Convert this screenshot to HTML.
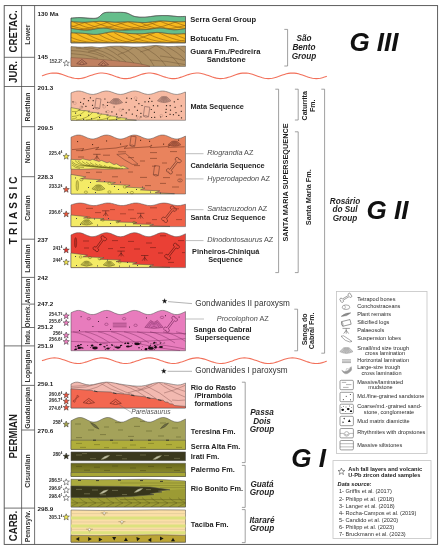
<!DOCTYPE html><html><head><meta charset="utf-8"><title>Stratigraphic chart</title>
<style>html,body{margin:0;padding:0;background:#fff}svg{display:block}text{font-family:"Liberation Sans",Arial,Helvetica,sans-serif}</style></head><body>
<svg width="442" height="550" viewBox="0 0 442 550">
<defs><linearGradient id="gPal" x1="0" y1="0" x2="0" y2="1"><stop offset="0" stop-color="#66651c"/><stop offset="0.7" stop-color="#8a8a2c"/><stop offset="1" stop-color="#8a8a2c"/></linearGradient><clipPath id="cRB"><rect x="71" y="497" width="114.5" height="10"/></clipPath><clipPath id="cO1"><path d="M71 21.6 C73.3 21.7 80.2 22.4 85 22.3 C89.8 22.2 95 21.3 100 21.3 C105 21.3 110 22.1 115 22.2 C120 22.3 125 21.7 130 21.8 C135 21.9 140 22.7 145 22.6 C150 22.5 155 21.1 160 21 C165 20.9 170.8 21.7 175 21.8 C179.2 21.9 183.8 21.6 185.5 21.6 L185.5 28.6 C183.6 28.8 178.2 29.9 174 29.8 C169.8 29.7 164.7 28 160 28 C155.3 28 150.7 29.3 146 29.6 C141.3 29.9 136.7 29.7 132 29.8 C127.3 29.9 122.8 30.5 118 30.2 C113.2 29.9 108.2 28 103 28 C97.8 28 92.3 30.1 87 30.2 C81.7 30.3 73.7 28.7 71 28.4Z"/></clipPath><clipPath id="cO2"><path d="M71 32.8 C73.2 32.9 79.7 33.1 84 33.4 C88.3 33.7 92.2 34.7 97 34.4 C101.8 34.1 107.8 32 113 31.8 C118.2 31.6 123.2 33.1 128 33.4 C132.8 33.7 137.2 34 142 33.8 C146.8 33.6 152 32.4 157 32.4 C162 32.4 167.2 33.8 172 34 C176.8 34.2 183.2 33.7 185.5 33.6 L185.5 42.8 L71 42.8Z"/></clipPath><clipPath id="cGU"><path d="M71 46.6 C72.8 46.7 78.5 47.2 82 47.2 C85.5 47.2 89 46.7 92 46.8 C95 46.9 97 47.7 100 47.6 C103 47.5 106.3 46.6 110 46.4 C113.7 46.2 118 46.1 122 46.2 C126 46.3 130 47 134 47 C138 47 142.3 46.7 146 46.4 C149.7 46.1 152.3 45.4 156 45.4 C159.7 45.4 164.3 46.5 168 46.6 C171.7 46.7 175.1 46.3 178 46.2 C180.9 46.1 184.2 46 185.5 46 L185.5 66.4 L71 66.4Z"/></clipPath><clipPath id="cSA"><rect x="71" y="331" width="114.5" height="19.5"/></clipPath><clipPath id="cRR"><path d="M71 384 C72.1 383.7 74.3 381.9 77.4 382.1 C80.5 382.3 84.9 385 89.7 385 C94.5 385 100.7 382.2 106.4 382.1 C112.1 382.1 118.2 384 124 384.7 C129.8 385.4 135.6 386.5 141.4 386.1 C147.2 385.7 152.8 382.7 158.8 382.5 C164.8 382.3 173.2 384.9 177.6 385 C182 385.1 184.2 383.3 185.5 383 L185.5 408 L71 408Z"/></clipPath></defs><rect width="442" height="550" fill="#fff"/>
<rect x="4.2" y="5.6" width="433.4" height="538.8" fill="none" stroke="#4d4d4d" stroke-width="0.9"/>
<line x1="21.6" y1="5.6" x2="21.6" y2="544.4" stroke="#4d4d4d" stroke-width="0.8"/>
<line x1="34.6" y1="5.6" x2="34.6" y2="544.4" stroke="#4d4d4d" stroke-width="0.8"/>
<line x1="4.2" y1="57.3" x2="34.6" y2="57.3" stroke="#4d4d4d" stroke-width="0.8"/>
<line x1="4.2" y1="86.5" x2="34.6" y2="86.5" stroke="#4d4d4d" stroke-width="0.8"/>
<line x1="4.2" y1="345.9" x2="34.6" y2="345.9" stroke="#4d4d4d" stroke-width="0.8"/>
<line x1="4.2" y1="508.1" x2="34.6" y2="508.1" stroke="#4d4d4d" stroke-width="0.8"/>
<line x1="21.6" y1="126.7" x2="34.6" y2="126.7" stroke="#4d4d4d" stroke-width="0.8"/>
<line x1="21.6" y1="176.7" x2="34.6" y2="176.7" stroke="#4d4d4d" stroke-width="0.8"/>
<line x1="21.6" y1="239.2" x2="34.6" y2="239.2" stroke="#4d4d4d" stroke-width="0.8"/>
<line x1="21.6" y1="277.4" x2="34.6" y2="277.4" stroke="#4d4d4d" stroke-width="0.8"/>
<line x1="21.6" y1="304.1" x2="34.6" y2="304.1" stroke="#4d4d4d" stroke-width="0.8"/>
<line x1="21.6" y1="327.5" x2="34.6" y2="327.5" stroke="#4d4d4d" stroke-width="0.8"/>
<line x1="21.6" y1="385.4" x2="34.6" y2="385.4" stroke="#4d4d4d" stroke-width="0.8"/>
<line x1="21.6" y1="430" x2="34.6" y2="430" stroke="#4d4d4d" stroke-width="0.8"/>
<text transform="translate(16.9 31.4) rotate(-90) scale(0.875 1)" font-size="11" font-weight="bold" font-style="normal" text-anchor="middle" fill="#1a1a1a" >CRETAC.</text>
<text transform="translate(16.9 72) rotate(-90) scale(0.875 1)" font-size="11" font-weight="bold" font-style="normal" text-anchor="middle" fill="#1a1a1a" >JUR.</text>
<text transform="translate(16.9 208.8) rotate(-90)" font-size="10" font-weight="bold" font-style="normal" text-anchor="middle" fill="#1a1a1a" letter-spacing="3.0">TRIASSIC</text>
<text transform="translate(16.9 436.2) rotate(-90) scale(0.875 1)" font-size="11" font-weight="bold" font-style="normal" text-anchor="middle" fill="#1a1a1a" >PERMIAN</text>
<text transform="translate(16.9 526) rotate(-90) scale(0.875 1)" font-size="11" font-weight="bold" font-style="normal" text-anchor="middle" fill="#1a1a1a" >CARB.</text>
<text transform="translate(30.4 34.6) rotate(-90)" font-size="6.9" font-weight="bold" font-style="normal" text-anchor="middle" fill="#333" >Lower</text>
<text transform="translate(30.4 107) rotate(-90)" font-size="6.9" font-weight="bold" font-style="normal" text-anchor="middle" fill="#333" >Raethian</text>
<text transform="translate(30.4 152.3) rotate(-90)" font-size="6.9" font-weight="bold" font-style="normal" text-anchor="middle" fill="#333" >Norian</text>
<text transform="translate(30.4 208) rotate(-90)" font-size="6.9" font-weight="bold" font-style="normal" text-anchor="middle" fill="#333" >Carnian</text>
<text transform="translate(30.4 258.5) rotate(-90)" font-size="6.9" font-weight="bold" font-style="normal" text-anchor="middle" fill="#333" >Ladinian</text>
<text transform="translate(30.4 291) rotate(-90)" font-size="6.9" font-weight="bold" font-style="normal" text-anchor="middle" fill="#333" >Anisian</text>
<text transform="translate(30.4 316) rotate(-90)" font-size="6.3" font-weight="bold" font-style="normal" text-anchor="middle" fill="#333" >Olenek.</text>
<text transform="translate(30.4 337) rotate(-90)" font-size="6.3" font-weight="bold" font-style="normal" text-anchor="middle" fill="#333" >Indu.</text>
<text transform="translate(30.4 366) rotate(-90)" font-size="6.9" font-weight="bold" font-style="normal" text-anchor="middle" fill="#333" >Lopingian</text>
<text transform="translate(30.4 408) rotate(-90)" font-size="6.9" font-weight="bold" font-style="normal" text-anchor="middle" fill="#333" >Guadalupian</text>
<text transform="translate(30.4 471) rotate(-90)" font-size="6.9" font-weight="bold" font-style="normal" text-anchor="middle" fill="#333" >Cisuralian</text>
<text transform="translate(30.4 526.5) rotate(-90)" font-size="6.9" font-weight="bold" font-style="normal" text-anchor="middle" fill="#333" >Pennsylv.</text>
<text x="37.6" y="16" font-size="6.25" font-weight="bold" font-style="normal" text-anchor="start" fill="#222" >130 Ma</text>
<text x="37.6" y="58.5" font-size="6.25" font-weight="bold" font-style="normal" text-anchor="start" fill="#222" >145</text>
<text x="37.6" y="89.5" font-size="6.25" font-weight="bold" font-style="normal" text-anchor="start" fill="#222" >201.3</text>
<text x="37.6" y="129.5" font-size="6.25" font-weight="bold" font-style="normal" text-anchor="start" fill="#222" >209.5</text>
<text x="37.6" y="178.7" font-size="6.25" font-weight="bold" font-style="normal" text-anchor="start" fill="#222" >228.3</text>
<text x="37.6" y="241.8" font-size="6.25" font-weight="bold" font-style="normal" text-anchor="start" fill="#222" >237</text>
<text x="37.6" y="280" font-size="6.25" font-weight="bold" font-style="normal" text-anchor="start" fill="#222" >242</text>
<text x="37.6" y="306" font-size="6.25" font-weight="bold" font-style="normal" text-anchor="start" fill="#222" >247.2</text>
<text x="37.6" y="329.3" font-size="6.25" font-weight="bold" font-style="normal" text-anchor="start" fill="#222" >251.2</text>
<text x="37.6" y="348.1" font-size="6.25" font-weight="bold" font-style="normal" text-anchor="start" fill="#222" >251.9</text>
<text x="37.6" y="386.2" font-size="6.25" font-weight="bold" font-style="normal" text-anchor="start" fill="#222" >259.1</text>
<text x="37.6" y="432.8" font-size="6.25" font-weight="bold" font-style="normal" text-anchor="start" fill="#222" >270.6</text>
<text x="37.6" y="511.4" font-size="6.25" font-weight="bold" font-style="normal" text-anchor="start" fill="#222" >298.9</text>
<text x="62.3" y="63.1" font-size="4.5" font-weight="bold" text-anchor="end" fill="#333">152.2<tspan font-size="2.8" dy="-1.6">7</tspan></text>
<path d="M66.3 60 L67.1 62.2 L69.4 62.3 L67.6 63.7 L68.2 66 L66.3 64.7 L64.4 66 L65 63.7 L63.2 62.3 L65.5 62.2Z" fill="#fff" stroke="#333" stroke-width="0.5" stroke-linejoin="miter"/>
<text x="62.3" y="154.9" font-size="4.7" font-weight="bold" text-anchor="end" fill="#2a2a2a">225.4<tspan font-size="2.8" dy="-1.6">4</tspan></text>
<path d="M66.2 153.2 L67 155.4 L69.3 155.5 L67.5 156.9 L68.1 159.2 L66.2 157.9 L64.3 159.2 L64.9 156.9 L63.1 155.5 L65.4 155.4Z" fill="#f4e54a" stroke="#333" stroke-width="0.5" stroke-linejoin="miter"/>
<text x="62.3" y="188.4" font-size="4.7" font-weight="bold" text-anchor="end" fill="#2a2a2a">233.2<tspan font-size="2.8" dy="-1.6">4</tspan></text>
<path d="M66.2 186.3 L67 188.5 L69.3 188.6 L67.5 190 L68.1 192.3 L66.2 191 L64.3 192.3 L64.9 190 L63.1 188.6 L65.4 188.5Z" fill="#f0583a" stroke="#333" stroke-width="0.5" stroke-linejoin="miter"/>
<text x="62.3" y="213.5" font-size="4.7" font-weight="bold" text-anchor="end" fill="#2a2a2a">236.6<tspan font-size="2.8" dy="-1.6">3</tspan></text>
<path d="M66.2 210.9 L67 213.1 L69.3 213.2 L67.5 214.6 L68.1 216.9 L66.2 215.6 L64.3 216.9 L64.9 214.6 L63.1 213.2 L65.4 213.1Z" fill="#f0583a" stroke="#333" stroke-width="0.5" stroke-linejoin="miter"/>
<text x="62.3" y="249.7" font-size="4.7" font-weight="bold" text-anchor="end" fill="#2a2a2a">241<tspan font-size="2.8" dy="-1.6">4</tspan></text>
<path d="M66.2 246.9 L67 249.1 L69.3 249.2 L67.5 250.6 L68.1 252.9 L66.2 251.6 L64.3 252.9 L64.9 250.6 L63.1 249.2 L65.4 249.1Z" fill="#e8352c" stroke="#333" stroke-width="0.5" stroke-linejoin="miter"/>
<text x="62.3" y="261.7" font-size="4.7" font-weight="bold" text-anchor="end" fill="#2a2a2a">244<tspan font-size="2.8" dy="-1.6">4</tspan></text>
<path d="M66.2 259 L67 261.2 L69.3 261.3 L67.5 262.7 L68.1 265 L66.2 263.7 L64.3 265 L64.9 262.7 L63.1 261.3 L65.4 261.2Z" fill="#f4e54a" stroke="#333" stroke-width="0.5" stroke-linejoin="miter"/>
<text x="62.3" y="316.3" font-size="4.7" font-weight="bold" text-anchor="end" fill="#2a2a2a">254.7<tspan font-size="2.8" dy="-1.6">6</tspan></text>
<path d="M66.2 312.7 L67 314.9 L69.3 315 L67.5 316.4 L68.1 318.7 L66.2 317.4 L64.3 318.7 L64.9 316.4 L63.1 315 L65.4 314.9Z" fill="#ee7ec0" stroke="#333" stroke-width="0.5" stroke-linejoin="miter"/>
<text x="62.3" y="322.6" font-size="4.7" font-weight="bold" text-anchor="end" fill="#2a2a2a">255.6<tspan font-size="2.8" dy="-1.6">6</tspan></text>
<path d="M66.2 319.6 L67 321.8 L69.3 321.9 L67.5 323.3 L68.1 325.6 L66.2 324.3 L64.3 325.6 L64.9 323.3 L63.1 321.9 L65.4 321.8Z" fill="#ee7ec0" stroke="#333" stroke-width="0.5" stroke-linejoin="miter"/>
<text x="62.3" y="335.3" font-size="4.7" font-weight="bold" text-anchor="end" fill="#2a2a2a">256<tspan font-size="2.8" dy="-1.6">6</tspan></text>
<path d="M66.2 332 L67 334.2 L69.3 334.3 L67.5 335.7 L68.1 338 L66.2 336.7 L64.3 338 L64.9 335.7 L63.1 334.3 L65.4 334.2Z" fill="#ee7ec0" stroke="#333" stroke-width="0.5" stroke-linejoin="miter"/>
<text x="62.3" y="341.2" font-size="4.7" font-weight="bold" text-anchor="end" fill="#2a2a2a">256.6<tspan font-size="2.8" dy="-1.6">6</tspan></text>
<path d="M66.2 338.4 L67 340.6 L69.3 340.7 L67.5 342.1 L68.1 344.4 L66.2 343.1 L64.3 344.4 L64.9 342.1 L63.1 340.7 L65.4 340.6Z" fill="#ee7ec0" stroke="#333" stroke-width="0.5" stroke-linejoin="miter"/>
<text x="62.3" y="395.9" font-size="4.7" font-weight="bold" text-anchor="end" fill="#2a2a2a">260.6<tspan font-size="2.8" dy="-1.6">4</tspan></text>
<path d="M66.2 391.9 L67 394.1 L69.3 394.2 L67.5 395.6 L68.1 397.9 L66.2 396.6 L64.3 397.9 L64.9 395.6 L63.1 394.2 L65.4 394.1Z" fill="#f0553f" stroke="#333" stroke-width="0.5" stroke-linejoin="miter"/>
<text x="62.3" y="402" font-size="4.7" font-weight="bold" text-anchor="end" fill="#2a2a2a">266.7<tspan font-size="2.8" dy="-1.6">4</tspan></text>
<path d="M66.2 398 L67 400.2 L69.3 400.3 L67.5 401.7 L68.1 404 L66.2 402.7 L64.3 404 L64.9 401.7 L63.1 400.3 L65.4 400.2Z" fill="#f0553f" stroke="#333" stroke-width="0.5" stroke-linejoin="miter"/>
<text x="62.3" y="409.7" font-size="4.7" font-weight="bold" text-anchor="end" fill="#2a2a2a">274.6<tspan font-size="2.8" dy="-1.6">4</tspan></text>
<path d="M66.2 404.2 L67 406.4 L69.3 406.5 L67.5 407.9 L68.1 410.2 L66.2 408.9 L64.3 410.2 L64.9 407.9 L63.1 406.5 L65.4 406.4Z" fill="#f0553f" stroke="#333" stroke-width="0.5" stroke-linejoin="miter"/>
<text x="62.3" y="423.5" font-size="4.7" font-weight="bold" text-anchor="end" fill="#2a2a2a">258<tspan font-size="2.8" dy="-1.6">4</tspan></text>
<path d="M66.2 421 L67 423.2 L69.3 423.3 L67.5 424.7 L68.1 427 L66.2 425.7 L64.3 427 L64.9 424.7 L63.1 423.3 L65.4 423.2Z" fill="#a8a64c" stroke="#333" stroke-width="0.5" stroke-linejoin="miter"/>
<text x="62.3" y="455.5" font-size="4.7" font-weight="bold" text-anchor="end" fill="#2a2a2a">280<tspan font-size="2.8" dy="-1.6">4</tspan></text>
<path d="M66.2 453 L67 455.2 L69.3 455.3 L67.5 456.7 L68.1 459 L66.2 457.7 L64.3 459 L64.9 456.7 L63.1 455.3 L65.4 455.2Z" fill="#2e2c16" stroke="#333" stroke-width="0.5" stroke-linejoin="miter"/>
<text x="62.3" y="482.2" font-size="4.7" font-weight="bold" text-anchor="end" fill="#2a2a2a">286.5<tspan font-size="2.8" dy="-1.6">1</tspan></text>
<path d="M66.2 478.8 L67 481 L69.4 481.1 L67.6 482.6 L68.2 485 L66.2 483.6 L64.2 485 L64.8 482.6 L63 481.1 L65.4 481Z" fill="#fff" stroke="#333" stroke-width="0.5" stroke-linejoin="miter"/>
<text x="62.3" y="489.8" font-size="4.7" font-weight="bold" text-anchor="end" fill="#2a2a2a">296.9<tspan font-size="2.8" dy="-1.6">1</tspan></text>
<path d="M66.2 486.8 L67 489 L69.4 489.1 L67.6 490.6 L68.2 493 L66.2 491.6 L64.2 493 L64.8 490.6 L63 489.1 L65.4 489Z" fill="#fff" stroke="#333" stroke-width="0.5" stroke-linejoin="miter"/>
<text x="62.3" y="497.6" font-size="4.7" font-weight="bold" text-anchor="end" fill="#2a2a2a">298.4<tspan font-size="2.8" dy="-1.6">1</tspan></text>
<path d="M66.2 494.4 L67 496.6 L69.4 496.7 L67.6 498.2 L68.2 500.6 L66.2 499.2 L64.2 500.6 L64.8 498.2 L63 496.7 L65.4 496.6Z" fill="#fff" stroke="#333" stroke-width="0.5" stroke-linejoin="miter"/>
<text x="62.3" y="518.7" font-size="4.7" font-weight="bold" text-anchor="end" fill="#2a2a2a">305.1<tspan font-size="2.8" dy="-1.6">4</tspan></text>
<path d="M66.2 513.8 L67 516 L69.4 516.1 L67.6 517.6 L68.2 520 L66.2 518.6 L64.2 520 L64.8 517.6 L63 516.1 L65.4 516Z" fill="#f3ea5a" stroke="#333" stroke-width="0.5" stroke-linejoin="miter"/>
<path d="M42.4 75.7 L44.4 75 L46.4 74.3 L48.4 73.8 L50.4 73.3 L52.4 73.1 L54.4 73 L56.4 73.1 L58.4 73.4 L60.4 73.9 L62.4 74.5 L64.4 75.2 L66.4 75.9 L68.4 76.7 L70.4 77.3 L72.4 77.9 L74.4 78.3 L76.4 78.5 L78.4 78.6 L80.4 78.5 L82.4 78.1 L84.4 77.6 L86.4 77 L88.4 76.3 L90.4 75.6 L92.4 74.9 L94.4 74.2 L96.4 73.7 L98.4 73.3 L100.4 73 L102.4 73 L104.4 73.2 L106.4 73.5 L108.4 74 L110.4 74.6 L112.4 75.3 L114.4 76.1 L116.4 76.8 L118.4 77.4 L120.4 78 L122.4 78.4 L124.4 78.6 L126.4 78.6 L128.4 78.4 L130.4 78.1 L132.4 77.5 L134.4 76.9 L136.4 76.2 L138.4 75.5 L140.4 74.8 L142.4 74.1 L144.4 73.6 L146.4 73.2 L148.4 73 L150.4 73 L152.4 73.2 L154.4 73.6 L156.4 74.1 L158.4 74.7 L160.4 75.5 L162.4 76.2 L164.4 76.9 L166.4 77.5 L168.4 78 L170.4 78.4 L172.4 78.6 L174.4 78.6 L176.4 78.4 L178.4 78 L180.4 77.4 L182.4 76.8 L184.4 76.1 L186.4 75.3 L188.4 74.6 L190.4 74 L192.4 73.5 L194.4 73.2 L196.4 73 L198.4 73 L200.4 73.3 L202.4 73.7 L204.4 74.2 L206.4 74.9 L208.4 75.6 L210.4 76.3 L212.4 77 L214.4 77.6 L216.4 78.1 L218.4 78.4 L220.4 78.6 L222.4 78.5 L224.4 78.3 L226.4 77.9 L228.4 77.3 L230.4 76.7 L232.4 76 L234.4 75.2 L236.4 74.5 L238.4 73.9 L240.4 73.4 L242.4 73.1 L244.4 73 L246.4 73.1 L248.4 73.3 L250.4 73.7 L252.4 74.3 L254.4 75 L256.4 75.7 L258.4 76.4 L260.4 77.1 L262.4 77.7 L264.4 78.2 L266.4 78.5 L268.4 78.6 L270.4 78.5 L272.4 78.3 L274.4 77.8 L276.4 77.2 L278.4 76.6 L280.4 75.8 L282.4 75.1 L284.4 74.4 L286.4 73.8 L288.4 73.4 L290.4 73.1 L292.4 73 L294.4 73.1 L296.4 73.4 L298.4 73.8 L300.4 74.4 L302.4 75.1 L304.4 75.8 L306.4 76.6 L308.4 77.2 L310.4 77.8 L312.4 78.3 L314.4 78.5 L316.4 78.6 L318.4 78.5 L320.4 78.2 L322.4 77.7 L324.4 77.1 L326.4 76.4" fill="none" stroke="#f2705a" stroke-width="1.1" stroke-linecap="round"/>
<path d="M42.4 360.6 L44.4 359.9 L46.4 359.2 L48.4 358.7 L50.4 358.2 L52.4 358 L54.4 357.9 L56.4 358 L58.4 358.3 L60.4 358.8 L62.4 359.4 L64.4 360.1 L66.4 360.8 L68.4 361.6 L70.4 362.2 L72.4 362.8 L74.4 363.2 L76.4 363.4 L78.4 363.5 L80.4 363.4 L82.4 363 L84.4 362.5 L86.4 361.9 L88.4 361.2 L90.4 360.5 L92.4 359.8 L94.4 359.1 L96.4 358.6 L98.4 358.2 L100.4 357.9 L102.4 357.9 L104.4 358.1 L106.4 358.4 L108.4 358.9 L110.4 359.5 L112.4 360.2 L114.4 361 L116.4 361.7 L118.4 362.3 L120.4 362.9 L122.4 363.3 L124.4 363.5 L126.4 363.5 L128.4 363.3 L130.4 363 L132.4 362.4 L134.4 361.8 L136.4 361.1 L138.4 360.4 L140.4 359.7 L142.4 359 L144.4 358.5 L146.4 358.1 L148.4 357.9 L150.4 357.9 L152.4 358.1 L154.4 358.5 L156.4 359 L158.4 359.6 L160.4 360.4 L162.4 361.1 L164.4 361.8 L166.4 362.4 L168.4 362.9 L170.4 363.3 L172.4 363.5 L174.4 363.5 L176.4 363.3 L178.4 362.9 L180.4 362.3 L182.4 361.7 L184.4 361 L186.4 360.2 L188.4 359.5 L190.4 358.9 L192.4 358.4 L194.4 358.1 L196.4 357.9 L198.4 357.9 L200.4 358.2 L202.4 358.6 L204.4 359.1 L206.4 359.8 L208.4 360.5 L210.4 361.2 L212.4 361.9 L214.4 362.5 L216.4 363 L218.4 363.3 L220.4 363.5 L222.4 363.4 L224.4 363.2 L226.4 362.8 L228.4 362.2 L230.4 361.6 L232.4 360.9 L234.4 360.1 L236.4 359.4 L238.4 358.8 L240.4 358.3 L242.4 358 L244.4 357.9 L246.4 358 L248.4 358.2 L250.4 358.6 L252.4 359.2 L254.4 359.9 L256.4 360.6 L258.4 361.3 L260.4 362 L262.4 362.6 L264.4 363.1 L266.4 363.4 L268.4 363.5 L270.4 363.4 L272.4 363.2 L274.4 362.7 L276.4 362.1 L278.4 361.5 L280.4 360.7 L282.4 360 L284.4 359.3 L286.4 358.7 L288.4 358.3 L290.4 358 L292.4 357.9 L294.4 358 L296.4 358.3 L298.4 358.7 L300.4 359.3 L302.4 360 L304.4 360.7 L306.4 361.5 L308.4 362.1 L310.4 362.7 L312.4 363.2 L314.4 363.4 L316.4 363.5 L318.4 363.4 L320.4 363.1 L322.4 362.6 L324.4 362 L326.4 361.3" fill="none" stroke="#f2705a" stroke-width="1.1" stroke-linecap="round"/>
<path d="M71 18.1 C72.5 18 76.8 17.6 80 17.6 C83.2 17.6 87.1 18.3 90 18.3 C92.9 18.3 95.2 18.7 97.6 17.8 C100 16.9 101.3 13.7 104.2 12.8 C107.1 11.9 111.4 12.4 115 12.4 C118.6 12.4 122.7 12.1 126 12.8 C129.3 13.5 131.8 15.9 135 16.6 C138.2 17.3 141.5 17.3 145 17.2 C148.5 17.1 152.2 16.1 156 15.8 C159.8 15.5 164.3 15.5 168 15.6 C171.7 15.7 175.1 16.5 178 16.6 C180.9 16.7 184.2 16.4 185.5 16.4 L185.5 42.8 L71 42.8Z" fill="#65be8b" stroke="#4a4a4a" stroke-width="0.5" />
<path d="M71 21.6 C73.3 21.7 80.2 22.4 85 22.3 C89.8 22.2 95 21.3 100 21.3 C105 21.3 110 22.1 115 22.2 C120 22.3 125 21.7 130 21.8 C135 21.9 140 22.7 145 22.6 C150 22.5 155 21.1 160 21 C165 20.9 170.8 21.7 175 21.8 C179.2 21.9 183.8 21.6 185.5 21.6 L185.5 28.6 C183.6 28.8 178.2 29.9 174 29.8 C169.8 29.7 164.7 28 160 28 C155.3 28 150.7 29.3 146 29.6 C141.3 29.9 136.7 29.7 132 29.8 C127.3 29.9 122.8 30.5 118 30.2 C113.2 29.9 108.2 28 103 28 C97.8 28 92.3 30.1 87 30.2 C81.7 30.3 73.7 28.7 71 28.4Z" fill="#f7b91f" stroke="#4a4a4a" stroke-width="0.5" />
<path d="M71 32.8 C73.2 32.9 79.7 33.1 84 33.4 C88.3 33.7 92.2 34.7 97 34.4 C101.8 34.1 107.8 32 113 31.8 C118.2 31.6 123.2 33.1 128 33.4 C132.8 33.7 137.2 34 142 33.8 C146.8 33.6 152 32.4 157 32.4 C162 32.4 167.2 33.8 172 34 C176.8 34.2 183.2 33.7 185.5 33.6 L185.5 42.8 L71 42.8Z" fill="#f7b91f" stroke="#4a4a4a" stroke-width="0.5" />
<path d="M51 20.6 C60.7 26.1 68.8 29 83.3 29.8M60.7 20.6 C70.4 26.1 78.5 29 93 29.8M57.7 29.8 C69.1 28.4 77.1 25.2 90.1 20.6M71.1 20.6 C81 26.1 89.3 29 104.1 29.8M81 20.6 C90.9 26.1 99.2 29 114 29.8M79.4 29.8 C91 28.4 99.2 25.2 112.4 20.6M91.8 20.6 C102.9 26.1 112.2 29 128.9 29.8M102.9 20.6 C114 26.1 123.3 29 140 29.8M93.7 29.8 C106.7 28.4 115.9 25.2 130.7 20.6M114.2 20.6 C125.7 26.1 135.3 29 152.4 29.8M125.7 20.6 C137.2 26.1 146.7 29 163.9 29.8M123.7 29.8 C137.1 28.4 146.7 25.2 161.9 20.6M136.6 20.6 C146.6 26.1 154.9 29 169.8 29.8M146.6 20.6 C156.5 26.1 164.9 29 179.8 29.8M146.5 29.8 C158.2 28.4 166.5 25.2 179.8 20.6M158.6 20.6 C171.2 26.1 181.8 29 200.8 29.8M171.2 20.6 C183.9 26.1 194.5 29 213.5 29.8M161 29.8 C175.8 28.4 186.4 25.2 203.3 20.6M183.9 20.6 C195 26.1 204.2 29 220.8 29.8M195 20.6 C206.1 26.1 215.3 29 231.9 29.8M194.5 29.8 C207.5 28.4 216.7 25.2 231.5 20.6" fill="none" stroke="#98640f" stroke-width="0.65" clip-path="url(#cO1)"/>
<path d="M51 32.6 C61.6 38.7 70.4 42 86.3 42.8M61.6 32.6 C72.2 38.7 81 42 96.9 42.8M74.9 32.6 C84.8 38.7 93 42 107.9 42.8M84.8 32.6 C94.7 38.7 102.9 42 117.8 42.8M96.2 32.6 C105.3 38.7 113 42 126.8 42.8M105.3 32.6 C114.5 38.7 122.2 42 135.9 42.8M114.2 32.6 C124.4 38.7 133 42 148.4 42.8M124.4 32.6 C134.7 38.7 143.3 42 158.7 42.8M120.9 42.8 C132.9 41.3 141.5 37.7 155.2 32.6M133.7 32.6 C145.5 38.7 155.4 42 173.3 42.8M145.5 32.6 C157.4 38.7 167.3 42 185.2 42.8M158.5 32.6 C170.8 38.7 181.1 42 199.6 42.8M170.8 32.6 C183.2 38.7 193.4 42 211.9 42.8M169 42.8 C183.4 41.3 193.7 37.7 210.1 32.6M182.2 32.6 C192.7 38.7 201.5 42 217.2 42.8M192.7 32.6 C203.2 38.7 212 42 227.8 42.8M184.9 42.8 C197.1 41.3 205.9 37.7 219.9 32.6" fill="none" stroke="#98640f" stroke-width="0.65" clip-path="url(#cO2)"/>
<path d="M71 18.1 C72.5 18 76.8 17.6 80 17.6 C83.2 17.6 87.1 18.3 90 18.3 C92.9 18.3 95.2 18.7 97.6 17.8 C100 16.9 101.3 13.7 104.2 12.8 C107.1 11.9 111.4 12.4 115 12.4 C118.6 12.4 122.7 12.1 126 12.8 C129.3 13.5 131.8 15.9 135 16.6 C138.2 17.3 141.5 17.3 145 17.2 C148.5 17.1 152.2 16.1 156 15.8 C159.8 15.5 164.3 15.5 168 15.6 C171.7 15.7 175.1 16.5 178 16.6 C180.9 16.7 184.2 16.4 185.5 16.4" fill="none" stroke="#4a4a4a" stroke-width="0.5" />
<path d="M71 21.6 C73.3 21.7 80.2 22.4 85 22.3 C89.8 22.2 95 21.3 100 21.3 C105 21.3 110 22.1 115 22.2 C120 22.3 125 21.7 130 21.8 C135 21.9 140 22.7 145 22.6 C150 22.5 155 21.1 160 21 C165 20.9 170.8 21.7 175 21.8 C179.2 21.9 183.8 21.6 185.5 21.6" fill="none" stroke="#5a5a3a" stroke-width="0.4" />
<path d="M71 28.4 C73.7 28.7 81.7 30.3 87 30.2 C92.3 30.1 97.8 28 103 28 C108.2 28 113.2 29.9 118 30.2 C122.8 30.5 127.3 29.9 132 29.8 C136.7 29.7 141.3 29.9 146 29.6 C150.7 29.3 155.3 28 160 28 C164.7 28 169.8 29.7 174 29.8 C178.2 29.9 183.6 28.8 185.5 28.6" fill="none" stroke="#5a5a3a" stroke-width="0.4" />
<path d="M71 32.8 C73.2 32.9 79.7 33.1 84 33.4 C88.3 33.7 92.2 34.7 97 34.4 C101.8 34.1 107.8 32 113 31.8 C118.2 31.6 123.2 33.1 128 33.4 C132.8 33.7 137.2 34 142 33.8 C146.8 33.6 152 32.4 157 32.4 C162 32.4 167.2 33.8 172 34 C176.8 34.2 183.2 33.7 185.5 33.6" fill="none" stroke="#5a5a3a" stroke-width="0.4" />
<path d="M71 18.1V42.8H185.5V16.4" fill="none" stroke="#4a4a4a" stroke-width="0.5" />
<path d="M71 46.6 C72.8 46.7 78.5 47.2 82 47.2 C85.5 47.2 89 46.7 92 46.8 C95 46.9 97 47.7 100 47.6 C103 47.5 106.3 46.6 110 46.4 C113.7 46.2 118 46.1 122 46.2 C126 46.3 130 47 134 47 C138 47 142.3 46.7 146 46.4 C149.7 46.1 152.3 45.4 156 45.4 C159.7 45.4 164.3 46.5 168 46.6 C171.7 46.7 175.1 46.3 178 46.2 C180.9 46.1 184.2 46 185.5 46 L185.5 66.4 L71 66.4Z" fill="#ae9063" stroke="#4a4a4a" stroke-width="0.5" />
<path d="M71 57.6 Q100 59 122 61.4 T150 66.4 L71 66.4Z" fill="#c08060" stroke="#6a4a35" stroke-width="0.4" />
<path d="M71 50.5 Q90 51 104 57 M71 53.6 Q86 54 98 58.4 M76 48 Q96 49 112 60 M84 47.4 Q104 49 120 61.2 M103 47.2 Q96 51 88 52 M103 47.2 Q112 50 126 61.8 M110 46.6 Q124 52 134 63 M120 46.4 Q136 54 142 64.6 M134 47 Q128 52 118 54.6 M134 47 Q148 54 154 66 M142 46.6 Q158 54 166 66 M156 45.6 Q150 50 140 52 M156 45.6 Q170 52 180 66 M166 46.4 Q178 52 185 60 M176 46.4 Q181 49 185 52.6 M150 60 Q166 60.6 185 64.6 M160 56 Q172 57 185 60.6" fill="none" stroke="#6e5636" stroke-width="0.45" clip-path="url(#cGU)"/>
<path d="M76.7 63.6 L81.9 59.4 L87.1 63.6 Q81.9 65.9 76.7 63.6Z M79.6 64 L81.9 61.4 L84.2 64" fill="none" stroke="#85503f" stroke-width="0.9" stroke-linejoin="round"/>
<path d="M98.2 64.7 L103.4 60.5 L108.6 64.7 Q103.4 67 98.2 64.7Z M101.1 65.1 L103.4 62.5 L105.7 65.1" fill="none" stroke="#85503f" stroke-width="0.9" stroke-linejoin="round"/>
<path d="M71 92.9 L72.5 92.3 L74 91.8 L75.5 91.4 L77 91.1 L78.5 91 L80 91.1 L81.5 91.4 L83 91.8 L84.5 92.3 L86 92.9 L87.5 93.4 L89 93.9 L90.5 94.2 L92 94.4 L93.5 94.4 L95 94.1 L96.5 93.8 L98 93.3 L99.5 92.7 L101 92.1 L102.5 91.6 L104 91.3 L105.5 91 L107 91 L108.5 91.2 L110 91.5 L111.5 92 L113 92.5 L114.5 93.1 L116 93.6 L117.5 94 L119 94.3 L120.5 94.4 L122 94.3 L123.5 94 L125 93.6 L126.5 93.1 L128 92.5 L129.5 92 L131 91.5 L132.5 91.2 L134 91 L135.5 91 L137 91.3 L138.5 91.6 L140 92.1 L141.5 92.7 L143 93.3 L144.5 93.8 L146 94.1 L147.5 94.4 L149 94.4 L150.5 94.2 L152 93.9 L153.5 93.4 L155 92.9 L156.5 92.3 L158 91.8 L159.5 91.4 L161 91.1 L162.5 91 L164 91.1 L165.5 91.4 L167 91.8 L168.5 92.3 L170 92.9 L171.5 93.4 L173 93.9 L174.5 94.2 L176 94.4 L177.5 94.4 L179 94.1 L180.5 93.8 L182 93.3 L183.5 92.7 L185 92.1 L185.5 92 L185.5 120.3 L71 120.3Z" fill="#f7baa2" stroke="#4a4a4a" stroke-width="0.5" />
<path d="M71 107.6 L80.4 109.3 L78.6 110.1 L89.7 111.1 L87.9 111.9 L99.1 112.9 L97.3 113.7 L108.4 114.7 L106.6 115.6 L117.8 116.5 L116 117.4 L127.1 118.3 L125.3 119.2 L136.5 120.2 L71 120.3Z" fill="#f4eb66" stroke="#4a4a4a" stroke-width="0.5" />
<path d="M72 116.6 Q81 116 85 110.4 M76 120 Q88 118.6 93 112 M86 120 Q98 119 102 113.6 M97 120 Q108 119.4 111 115.4 M72 111.6 Q77 112.6 80 109.6 M109 120 Q118 119.6 121 117.6 M72 119 Q75 119 77 117.4" fill="none" stroke="#6e6a18" stroke-width="0.5" />
<rect x="75" y="112.6" width="1.1" height="1.1" fill="#333"/>
<rect x="80" y="115" width="1.1" height="1.1" fill="#333"/>
<rect x="88" y="114.6" width="1.1" height="1.1" fill="#333"/>
<rect x="91" y="118.2" width="1.1" height="1.1" fill="#333"/>
<rect x="99" y="117" width="1.1" height="1.1" fill="#333"/>
<rect x="107" y="118.4" width="1.1" height="1.1" fill="#333"/>
<rect x="116" y="118.8" width="1.1" height="1.1" fill="#333"/>
<rect x="83" y="118.8" width="1.1" height="1.1" fill="#333"/>
<rect x="122.4" y="108.7" width="1.2" height="1.2" rx="0.3" fill="#3a2a22"/>
<rect x="174.5" y="106.7" width="1.2" height="1.2" rx="0.3" fill="#3a2a22"/>
<rect x="128.5" y="109.3" width="1.2" height="1.2" rx="0.3" fill="#3a2a22"/>
<rect x="92.8" y="107.7" width="1.2" height="1.2" rx="0.3" fill="#3a2a22"/>
<rect x="82.8" y="103.3" width="1.2" height="1.2" rx="0.3" fill="#3a2a22"/>
<rect x="149" y="97.8" width="1.2" height="1.2" rx="0.3" fill="#3a2a22"/>
<rect x="180.9" y="117.2" width="1.2" height="1.2" rx="0.3" fill="#3a2a22"/>
<rect x="89.8" y="97.2" width="1.2" height="1.2" rx="0.3" fill="#3a2a22"/>
<rect x="130.8" y="98.1" width="1.2" height="1.2" rx="0.3" fill="#3a2a22"/>
<rect x="121.1" y="114.7" width="1.2" height="1.2" rx="0.3" fill="#3a2a22"/>
<rect x="165.2" y="111.8" width="1.2" height="1.2" rx="0.3" fill="#3a2a22"/>
<rect x="107.2" y="101.7" width="1.2" height="1.2" rx="0.3" fill="#3a2a22"/>
<rect x="104.3" y="98.4" width="1.2" height="1.2" rx="0.3" fill="#3a2a22"/>
<rect x="157.1" y="105.3" width="1.2" height="1.2" rx="0.3" fill="#3a2a22"/>
<rect x="165.9" y="105" width="1.2" height="1.2" rx="0.3" fill="#3a2a22"/>
<rect x="178.2" y="114.8" width="1.2" height="1.2" rx="0.3" fill="#3a2a22"/>
<rect x="72.4" y="101.3" width="1.2" height="1.2" rx="0.3" fill="#3a2a22"/>
<rect x="180.7" y="105.3" width="1.2" height="1.2" rx="0.3" fill="#3a2a22"/>
<rect x="83.5" y="98.1" width="1.2" height="1.2" rx="0.3" fill="#3a2a22"/>
<rect x="134.2" y="106.3" width="1.2" height="1.2" rx="0.3" fill="#3a2a22"/>
<rect x="85.3" y="105.8" width="1.2" height="1.2" rx="0.3" fill="#3a2a22"/>
<rect x="113.5" y="106.4" width="1.2" height="1.2" rx="0.3" fill="#3a2a22"/>
<rect x="135.9" y="115.2" width="1.2" height="1.2" rx="0.3" fill="#3a2a22"/>
<rect x="92.6" y="100.1" width="1.2" height="1.2" rx="0.3" fill="#3a2a22"/>
<rect x="172.8" y="114.1" width="1.2" height="1.2" rx="0.3" fill="#3a2a22"/>
<rect x="154.1" y="116.7" width="1.2" height="1.2" rx="0.3" fill="#3a2a22"/>
<rect x="169.9" y="109.6" width="1.2" height="1.2" rx="0.3" fill="#3a2a22"/>
<rect x="138.3" y="103.1" width="1.2" height="1.2" rx="0.3" fill="#3a2a22"/>
<rect x="80" y="101.7" width="1.2" height="1.2" rx="0.3" fill="#3a2a22"/>
<rect x="173.7" y="101.2" width="1.2" height="1.2" rx="0.3" fill="#3a2a22"/>
<rect x="91.9" y="104.7" width="1.2" height="1.2" rx="0.3" fill="#3a2a22"/>
<rect x="135.6" y="99.7" width="1.2" height="1.2" rx="0.3" fill="#3a2a22"/>
<rect x="180.7" y="110.7" width="1.2" height="1.2" rx="0.3" fill="#3a2a22"/>
<rect x="125.7" y="112.3" width="1.2" height="1.2" rx="0.3" fill="#3a2a22"/>
<rect x="153.8" y="111.7" width="1.2" height="1.2" rx="0.3" fill="#3a2a22"/>
<rect x="160" y="116.2" width="1.2" height="1.2" rx="0.3" fill="#3a2a22"/>
<rect x="111.3" y="111.3" width="1.2" height="1.2" rx="0.3" fill="#3a2a22"/>
<rect x="141.4" y="104.9" width="1.2" height="1.2" rx="0.3" fill="#3a2a22"/>
<rect x="136.8" y="109.7" width="1.2" height="1.2" rx="0.3" fill="#3a2a22"/>
<rect x="152.8" y="105.1" width="1.2" height="1.2" rx="0.3" fill="#3a2a22"/>
<rect x="125.5" y="101.7" width="1.2" height="1.2" rx="0.3" fill="#3a2a22"/>
<rect x="140.3" y="116.3" width="1.2" height="1.2" rx="0.3" fill="#3a2a22"/>
<rect x="105.6" y="111.2" width="1.2" height="1.2" rx="0.3" fill="#3a2a22"/>
<rect x="169.6" y="105" width="1.2" height="1.2" rx="0.3" fill="#3a2a22"/>
<rect x="151" y="116.9" width="1.2" height="1.2" rx="0.3" fill="#3a2a22"/>
<rect x="150.7" y="108.9" width="1.2" height="1.2" rx="0.3" fill="#3a2a22"/>
<rect x="148" y="101.1" width="1.2" height="1.2" rx="0.3" fill="#3a2a22"/>
<rect x="151.3" y="100.7" width="1.2" height="1.2" rx="0.3" fill="#3a2a22"/>
<rect x="102.5" y="104.2" width="1.2" height="1.2" rx="0.3" fill="#3a2a22"/>
<rect x="140.3" y="112.8" width="1.2" height="1.2" rx="0.3" fill="#3a2a22"/>
<rect x="115.9" y="113.6" width="1.2" height="1.2" rx="0.3" fill="#3a2a22"/>
<rect x="175.4" y="112.1" width="1.2" height="1.2" rx="0.3" fill="#3a2a22"/>
<rect x="169.5" y="113.7" width="1.2" height="1.2" rx="0.3" fill="#3a2a22"/>
<rect x="144.4" y="101.2" width="1.2" height="1.2" rx="0.3" fill="#3a2a22"/>
<rect x="131.7" y="113.6" width="1.2" height="1.2" rx="0.3" fill="#3a2a22"/>
<rect x="81.5" y="106.2" width="1.2" height="1.2" rx="0.3" fill="#3a2a22"/>
<rect x="126.2" y="97.5" width="1.2" height="1.2" rx="0.3" fill="#3a2a22"/>
<rect x="87.9" y="100" width="1.2" height="1.2" rx="0.3" fill="#3a2a22"/>
<rect x="177.3" y="98.7" width="1.2" height="1.2" rx="0.3" fill="#3a2a22"/>
<rect x="165.6" y="108.7" width="1.2" height="1.2" rx="0.3" fill="#3a2a22"/>
<rect x="106.8" y="104.9" width="1.2" height="1.2" rx="0.3" fill="#3a2a22"/>
<rect x="165.8" y="115.9" width="1.2" height="1.2" rx="0.3" fill="#3a2a22"/>
<path d="M-2.5 -5.2 H2.5 V4.4 Q0 6.1 -2.5 4.4 Z M-2.5 4.4 Q0 3 2.5 4.4" fill="none" stroke="#7a5a55" stroke-width="0.55" stroke-linejoin="round" transform="translate(97.8 103.8) rotate(8)"/>
<path d="M-2.6 -5.2 H2.6 V4.4 Q0 6.1 -2.6 4.4 Z M-2.6 4.4 Q0 3 2.6 4.4" fill="none" stroke="#7a5a55" stroke-width="0.55" stroke-linejoin="round" transform="translate(146.5 112) rotate(8)"/>
<path d="M109.3 102.5 L113.3 98.8 Q116 98 118.7 98.8 L122.7 102.5 Q116 106.1 109.3 102.5Z" fill="#7d5a55" fill-opacity="0.45" stroke="#7d5a55" stroke-width="0.48" stroke-linejoin="round"/>
<path d="M114.2 99 Q113.7 101.3 111.2 103.2M114.9 99 Q114.7 101.3 113.2 103.6M115.6 99 Q115.6 101.3 115.1 104M116.4 99 Q116.4 101.3 116.9 104M117.1 99 Q117.3 101.3 118.8 103.6M117.8 99 Q118.3 101.3 120.8 103.2" fill="none" stroke="#7d5a55" stroke-width="0.4" stroke-opacity="0.95"/>
<path d="M157.4 100.8 L161.5 96.8 Q164.2 96.1 166.9 96.8 L171 100.8 Q164.2 104.4 157.4 100.8Z" fill="#7d5a55" fill-opacity="0.45" stroke="#7d5a55" stroke-width="0.48" stroke-linejoin="round"/>
<path d="M162.3 97.1 Q161.9 99.5 159.4 101.4M163.1 97.1 Q162.9 99.5 161.4 101.9M163.8 97.1 Q163.8 99.5 163.3 102.3M164.6 97.1 Q164.6 99.5 165.1 102.3M165.3 97.1 Q165.5 99.5 167 101.9M166.1 97.1 Q166.5 99.5 169 101.4" fill="none" stroke="#7d5a55" stroke-width="0.4" stroke-opacity="0.95"/>
<ellipse cx="74.8" cy="103.2" rx="1.5" ry="1.3" fill="none" stroke="#b98878" stroke-width="0.45"/>
<ellipse cx="104.2" cy="106.9" rx="1.5" ry="1.3" fill="none" stroke="#b98878" stroke-width="0.45"/>
<ellipse cx="107.9" cy="111.6" rx="1.5" ry="1.3" fill="none" stroke="#b98878" stroke-width="0.45"/>
<ellipse cx="81.4" cy="107.2" rx="1.5" ry="1.3" fill="none" stroke="#b98878" stroke-width="0.45"/>
<ellipse cx="120.4" cy="110.1" rx="1.5" ry="1.3" fill="none" stroke="#b98878" stroke-width="0.45"/>
<ellipse cx="135.6" cy="98" rx="1.5" ry="1.3" fill="none" stroke="#b98878" stroke-width="0.45"/>
<ellipse cx="161.3" cy="115.7" rx="1.5" ry="1.3" fill="none" stroke="#b98878" stroke-width="0.45"/>
<ellipse cx="138.5" cy="118" rx="1.5" ry="1.3" fill="none" stroke="#b98878" stroke-width="0.45"/>
<path d="M71 137.2 L72.5 136.6 L74 135.9 L75.5 135.4 L77 135.1 L78.5 135 L80 135.1 L81.5 135.4 L83 135.9 L84.5 136.6 L86 137.2 L87.5 137.9 L89 138.4 L90.5 138.8 L92 139 L93.5 138.9 L95 138.7 L96.5 138.2 L98 137.7 L99.5 137 L101 136.3 L102.5 135.8 L104 135.3 L105.5 135.1 L107 135 L108.5 135.2 L110 135.6 L111.5 136.1 L113 136.8 L114.5 137.4 L116 138.1 L117.5 138.6 L119 138.9 L120.5 139 L122 138.9 L123.5 138.6 L125 138.1 L126.5 137.4 L128 136.8 L129.5 136.1 L131 135.6 L132.5 135.2 L134 135 L135.5 135.1 L137 135.3 L138.5 135.8 L140 136.3 L141.5 137 L143 137.7 L144.5 138.2 L146 138.7 L147.5 138.9 L149 139 L150.5 138.8 L152 138.4 L153.5 137.9 L155 137.2 L156.5 136.6 L158 135.9 L159.5 135.4 L161 135.1 L162.5 135 L164 135.1 L165.5 135.4 L167 135.9 L168.5 136.6 L170 137.2 L171.5 137.9 L173 138.4 L174.5 138.8 L176 139 L177.5 138.9 L179 138.7 L180.5 138.2 L182 137.7 L183.5 137 L185 136.3 L185.5 136.1 L185.5 194 L71 194Z" fill="#e9835d" stroke="#4a4a4a" stroke-width="0.5" />
<path d="M71 159.3 L80 159.9 L82.4 158.8 L90 160.4 L92.4 159.4 L99 161.4 L101.4 160.4 L107 162.8 L109.4 162 L114 164.6 L116.4 163.8 L121 166.4 L123 165.8 L128.4 168.6 L120 168.9 L108 169.2 L95 168.8 L82 169.3 L71 169.2Z" fill="#f4eb66" stroke="#4a4a4a" stroke-width="0.5" />
<path d="M72 161.6 Q78 167.6 90 165.4 M75 160.6 Q81 167.4 94 165.8 M78 161 Q85 168 98 166.6 M82 161.4 Q89 168 102 167 M86 162 Q93 168.4 106 167.4 M90 162.6 Q97 168.4 110 167.8 M95 163.6 Q101 168.6 113 168 M99 164.4 Q105 168.6 117 168.2 M104 165.4 Q109 168.8 120 168.4 M72 165 Q75 168 80 168.4 M72 163 Q76 167.6 84 167.4 M109 166.4 Q114 168.6 123 168.5" fill="none" stroke="#5e5a14" stroke-width="0.5" />
<path d="M71 174.4 L85.8 176.9 L81.3 178.7 L100.6 179.7 L96.1 181.5 L115.4 182.5 L110.9 184.3 L130.1 185.3 L125.6 187.1 L144.9 188.1 L140.4 189.9 L159.7 190.9 L155.2 192.7 L174.5 193.7 L71 194Z" fill="#f4eb66" stroke="#4a4a4a" stroke-width="0.5" />
<path d="M76 150.6h7M118 151.8h8M150 152.6h7M170 151.6h7M78 157h6M103 155.2h7M128 157.6h6M150 158.4h7M134 165.6h6M152 166.2h4M163 177.6h7M96 172.2h6M112 176.8h6M140 177.4h7M128 172h5M160 183.4h6M145 185.6h6M172 187h7M86 172.6h4M140 161h5M162 163h5M176 175h6" fill="none" stroke="#6e3420" stroke-width="0.55" />
<path d="M72 149.6 L84 148.6 L81.6 150.6 L99 147.2 L95.6 149.6 L116 148 L127.6 145.6 L124 148.4 L149 146.8 L152 145 L150 147.6 L167 146.6 L170 144.8 L168 147.4 L184.6 146.8" fill="none" stroke="#6e3420" stroke-width="0.55" />
<rect x="77" y="141" width="1.1" height="1.1" fill="#5a2a18"/>
<rect x="106" y="140.4" width="1.1" height="1.1" fill="#5a2a18"/>
<rect x="149" y="140.8" width="1.1" height="1.1" fill="#5a2a18"/>
<rect x="163" y="143.6" width="1.1" height="1.1" fill="#5a2a18"/>
<rect x="92" y="144" width="1.1" height="1.1" fill="#5a2a18"/>
<rect x="140" y="139.8" width="1.1" height="1.1" fill="#5a2a18"/>
<rect x="178" y="139.6" width="1.1" height="1.1" fill="#5a2a18"/>
<rect x="120" y="143.5" width="1.1" height="1.1" fill="#5a2a18"/>
<path d="M-2.5 -5.1 H2.5 V4.3 Q0 6 -2.5 4.3 Z M-2.5 4.3 Q0 2.9 2.5 4.3" fill="none" stroke="#6e3a2c" stroke-width="0.55" stroke-linejoin="round" transform="translate(132.9 141.5) rotate(8)"/>
<path d="M-2.5 -5.1 H2.5 V4.3 Q0 6 -2.5 4.3 Z M-2.5 4.3 Q0 2.9 2.5 4.3" fill="none" stroke="#6e3a2c" stroke-width="0.55" stroke-linejoin="round" transform="translate(156.4 170.9) rotate(8)"/>
<path d="M168 144.7 L171.9 141.3 Q174.5 140.6 177.1 141.3 L181 144.7 Q174.5 147.8 168 144.7Z" fill="#7a3a2a" fill-opacity="0.45" stroke="#7a3a2a" stroke-width="0.48" stroke-linejoin="round"/>
<path d="M172.7 141.6 Q172.3 143.6 169.9 145.3M173.5 141.6 Q173.2 143.6 171.8 145.7M174.2 141.6 Q174.1 143.6 173.6 146M174.8 141.6 Q174.9 143.6 175.4 146M175.5 141.6 Q175.8 143.6 177.2 145.7M176.3 141.6 Q176.7 143.6 179.1 145.3" fill="none" stroke="#7a3a2a" stroke-width="0.4" stroke-opacity="0.95"/>
<path d="M93.2 154.3 h7.4 M96.9 154.3 v5.3 M96.9 156.2 L94.4 159.5 M96.9 156.2 L99.4 159.5" fill="none" stroke="#4a2216" stroke-width="0.5" />
<path d="M-5.4 -0.9 L5.4 -0.9 A1.8 1.8 0 1 1 8.1 0 A1.8 1.8 0 1 1 5.4 0.9 L-5.4 0.9 A1.8 1.8 0 1 1 -8.1 0 A1.8 1.8 0 1 1 -5.4 -0.9Z" fill="none" stroke="#6e3a2c" stroke-width="0.65" transform="translate(173.8 165.7) rotate(-52)"/>
<path d="M116.8 154.4 L125.6 153.6 L138 164.2 L132.4 164.4 Q124 160 116.8 154.4Z" fill="none" stroke="#6e3a2c" stroke-width="0.55" stroke-linejoin="round"/>
<ellipse cx="180" cy="180.4" rx="2.3" ry="1.6" fill="none" stroke="#6e3a2c" stroke-width="0.5"/>
<path d="M179.6 179 Q181 180.4 179.6 181.8" fill="none" stroke="#6e3a2c" stroke-width="0.4" />
<ellipse cx="77.3" cy="185.6" rx="1.2" ry="5.2" fill="#d3ca52" stroke="#6e6a18" stroke-width="0.45"/>
<path d="M91.9 188.8 L95.8 185.2 Q98.4 184.4 101 185.2 L104.9 188.8 Q98.4 192.2 91.9 188.8Z" fill="#5f5c18" fill-opacity="0.25" stroke="#5f5c18" stroke-width="0.48" stroke-linejoin="round"/>
<path d="M96.6 185.4 Q96.2 187.6 93.8 189.4M97.4 185.4 Q97.1 187.6 95.7 189.8M98.1 185.4 Q98 187.6 97.5 190.2M98.7 185.4 Q98.8 187.6 99.3 190.2M99.4 185.4 Q99.7 187.6 101.1 189.8M100.2 185.4 Q100.6 187.6 103 189.4" fill="none" stroke="#5f5c18" stroke-width="0.4" stroke-opacity="0.95"/>
<ellipse cx="81.4" cy="179.6" rx="1.6" ry="1.2" fill="none" stroke="#6f6b1c" stroke-width="0.5"/>
<ellipse cx="85.9" cy="192.2" rx="1.6" ry="1.2" fill="none" stroke="#6f6b1c" stroke-width="0.5"/>
<ellipse cx="109.4" cy="192" rx="1.6" ry="1.2" fill="none" stroke="#6f6b1c" stroke-width="0.5"/>
<ellipse cx="109.4" cy="183.2" rx="1.6" ry="1.2" fill="none" stroke="#6f6b1c" stroke-width="0.5"/>
<ellipse cx="124.8" cy="186.9" rx="1.6" ry="1.2" fill="none" stroke="#6f6b1c" stroke-width="0.5"/>
<ellipse cx="131.9" cy="192.6" rx="1.6" ry="1.2" fill="none" stroke="#6f6b1c" stroke-width="0.5"/>
<rect x="75" y="177.5" width="1" height="1" fill="#444"/>
<rect x="90" y="182" width="1" height="1" fill="#444"/>
<rect x="95" y="192" width="1" height="1" fill="#444"/>
<rect x="104" y="181" width="1" height="1" fill="#444"/>
<rect x="118" y="189" width="1" height="1" fill="#444"/>
<rect x="127" y="192" width="1" height="1" fill="#444"/>
<rect x="136" y="189" width="1" height="1" fill="#444"/>
<rect x="150" y="191.6" width="1" height="1" fill="#444"/>
<rect x="160" y="192.6" width="1" height="1" fill="#444"/>
<rect x="114" y="186" width="1" height="1" fill="#444"/>
<rect x="88" y="187" width="1" height="1" fill="#444"/>
<rect x="120" y="181.6" width="1" height="1" fill="#444"/>
<rect x="142" y="186.6" width="1" height="1" fill="#444"/>
<path d="M71 204.9 L72.5 204.4 L74 204 L75.5 203.6 L77 203.3 L78.5 203.1 L80 203 L81.5 203.1 L83 203.3 L84.5 203.6 L86 204 L87.5 204.4 L89 204.9 L90.5 205.2 L92 205.5 L93.5 205.6 L95 205.6 L96.5 205.4 L98 205.1 L99.5 204.7 L101 204.3 L102.5 203.9 L104 203.5 L105.5 203.2 L107 203 L108.5 203 L110 203.1 L111.5 203.4 L113 203.7 L114.5 204.2 L116 204.6 L117.5 205 L119 205.3 L120.5 205.5 L122 205.6 L123.5 205.5 L125 205.3 L126.5 205 L128 204.6 L129.5 204.2 L131 203.7 L132.5 203.4 L134 203.1 L135.5 203 L137 203 L138.5 203.2 L140 203.5 L141.5 203.9 L143 204.3 L144.5 204.7 L146 205.1 L147.5 205.4 L149 205.6 L150.5 205.6 L152 205.5 L153.5 205.2 L155 204.9 L156.5 204.4 L158 204 L159.5 203.6 L161 203.3 L162.5 203.1 L164 203 L165.5 203.1 L167 203.3 L168.5 203.6 L170 204 L171.5 204.4 L173 204.9 L174.5 205.2 L176 205.5 L177.5 205.6 L179 205.6 L180.5 205.4 L182 205.1 L183.5 204.7 L185 204.3 L185.5 204.2 L185.5 226.6 L71 226.6Z" fill="#f06249" stroke="#4a4a4a" stroke-width="0.5" />
<path d="M71 215 L87.5 216.7 L83.5 218.1 L104 218.6 L100 220.1 L120.5 220.6 L116.5 222 L137 222.5 L133 223.9 L153.5 224.4 L149.5 225.9 L170 226.4 L71 226.6Z" fill="#f4eb66" stroke="#4a4a4a" stroke-width="0.5" />
<path d="M86 208.4h7M150 207.8h7M172 208.8h7M95 212.6h6M120 213.8h6M128 209.8h6M130 218.4h6M152 219.6h5M176 219.6h6M146 223h5M110 209.6h5" fill="none" stroke="#7a2a1a" stroke-width="0.55" />
<path d="M102 210.8 h7.4 M105.7 210.8 v5.3 M105.7 212.7 L103.2 216 M105.7 212.7 L108.2 216" fill="none" stroke="#4a1c14" stroke-width="0.5" />
<path d="M137 213.3 h7.4 M140.7 213.3 v5.3 M140.7 215.2 L138.2 218.5 M140.7 215.2 L143.2 218.5" fill="none" stroke="#4a1c14" stroke-width="0.5" />
<path d="M-5.4 -0.9 L5.4 -0.9 A1.8 1.8 0 1 1 8.1 0 A1.8 1.8 0 1 1 5.4 0.9 L-5.4 0.9 A1.8 1.8 0 1 1 -8.1 0 A1.8 1.8 0 1 1 -5.4 -0.9Z" fill="none" stroke="#6e2a20" stroke-width="0.65" transform="translate(169 214.2) rotate(-52)"/>
<path d="M80.6 223.4 L84.2 220.1 Q86.6 219.3 89 220.1 L92.6 223.4 Q86.6 226.6 80.6 223.4Z" fill="#5f5c18" fill-opacity="0.25" stroke="#5f5c18" stroke-width="0.48" stroke-linejoin="round"/>
<path d="M85 220.3 Q84.6 222.3 82.3 224M85.6 220.3 Q85.4 222.3 84.1 224.4M86.3 220.3 Q86.2 222.3 85.8 224.7M86.9 220.3 Q87 222.3 87.4 224.7M87.6 220.3 Q87.8 222.3 89.1 224.4M88.2 220.3 Q88.6 222.3 90.9 224" fill="none" stroke="#5f5c18" stroke-width="0.4" stroke-opacity="0.95"/>
<ellipse cx="88.8" cy="217.8" rx="1.5" ry="1.1" fill="none" stroke="#6f6b1c" stroke-width="0.5"/>
<ellipse cx="102.8" cy="220" rx="1.5" ry="1.1" fill="none" stroke="#6f6b1c" stroke-width="0.5"/>
<ellipse cx="117.5" cy="221.8" rx="1.5" ry="1.1" fill="none" stroke="#6f6b1c" stroke-width="0.5"/>
<ellipse cx="134.1" cy="222.4" rx="1.5" ry="1.1" fill="none" stroke="#6f6b1c" stroke-width="0.5"/>
<rect x="76" y="218" width="1" height="1" fill="#444"/>
<rect x="80" y="224" width="1" height="1" fill="#444"/>
<rect x="97" y="224.6" width="1" height="1" fill="#444"/>
<rect x="110" y="223" width="1" height="1" fill="#444"/>
<rect x="125" y="224.6" width="1" height="1" fill="#444"/>
<rect x="94" y="218.5" width="1" height="1" fill="#444"/>
<rect x="108" y="218" width="1" height="1" fill="#444"/>
<rect x="140" y="225" width="1" height="1" fill="#444"/>
<path d="M71 234.9 L72.5 234.3 L74 233.6 L75.5 233.1 L77 232.8 L78.5 232.7 L80 232.8 L81.5 233.1 L83 233.6 L84.5 234.3 L86 234.9 L87.5 235.6 L89 236.1 L90.5 236.5 L92 236.7 L93.5 236.6 L95 236.4 L96.5 235.9 L98 235.4 L99.5 234.7 L101 234 L102.5 233.5 L104 233 L105.5 232.8 L107 232.7 L108.5 232.9 L110 233.3 L111.5 233.8 L113 234.5 L114.5 235.1 L116 235.8 L117.5 236.3 L119 236.6 L120.5 236.7 L122 236.6 L123.5 236.3 L125 235.8 L126.5 235.1 L128 234.5 L129.5 233.8 L131 233.3 L132.5 232.9 L134 232.7 L135.5 232.8 L137 233 L138.5 233.5 L140 234 L141.5 234.7 L143 235.4 L144.5 235.9 L146 236.4 L147.5 236.6 L149 236.7 L150.5 236.5 L152 236.1 L153.5 235.6 L155 234.9 L156.5 234.3 L158 233.6 L159.5 233.1 L161 232.8 L162.5 232.7 L164 232.8 L165.5 233.1 L167 233.6 L168.5 234.3 L170 234.9 L171.5 235.6 L173 236.1 L174.5 236.5 L176 236.7 L177.5 236.6 L179 236.4 L180.5 235.9 L182 235.4 L183.5 234.7 L185 234 L185.5 233.8 L185.5 267.6 L71 267.6Z" fill="#ea4035" stroke="#4a4a4a" stroke-width="0.5" />
<path d="M71 253 L87.5 255.2 L83 256.8 L104 257.6 L99.5 259.3 L120.5 260 L116 261.7 L137 262.5 L132.5 264.1 L153.5 264.9 L149 266.6 L170 267.3 L71 267.6Z" fill="#f4eb66" stroke="#4a4a4a" stroke-width="0.5" />
<path d="M83 241h6M84 248h5M112 240.6h6M128 241.4h6M146 243h6M160 235.8h6M134 249h6M150 247.6h6M158 253h5M182 252.6h3M168 262.4h6M120 247.6h5M178 240.6h6M108 248.6h5" fill="none" stroke="#6a1a14" stroke-width="0.55" />
<ellipse cx="75.6" cy="242.6" rx="1.1" ry="5" fill="#c52a22" stroke="#5a1a14" stroke-width="0.45"/>
<path d="M-5.1 -0.9 L5.1 -0.9 A1.7 1.7 0 1 1 7.7 0 A1.7 1.7 0 1 1 5.1 0.9 L-5.1 0.9 A1.7 1.7 0 1 1 -7.7 0 A1.7 1.7 0 1 1 -5.1 -0.9Z" fill="none" stroke="#6a1a14" stroke-width="0.65" transform="translate(99.8 243.7) rotate(-54)"/>
<path d="M-5.4 -0.9 L5.4 -0.9 A1.8 1.8 0 1 1 8.1 0 A1.8 1.8 0 1 1 5.4 0.9 L-5.4 0.9 A1.8 1.8 0 1 1 -8.1 0 A1.8 1.8 0 1 1 -5.4 -0.9Z" fill="none" stroke="#6a1a14" stroke-width="0.65" transform="translate(172 251.5) rotate(-52)"/>
<path d="M117.4 251.1 h7.4 M121.1 251.1 v5.3 M121.1 253 L118.6 256.3 M121.1 253 L123.6 256.3" fill="none" stroke="#401410" stroke-width="0.5" />
<path d="M141 255.5 h7.4 M144.7 255.5 v5.3 M144.7 257.4 L142.2 260.7 M144.7 257.4 L147.2 260.7" fill="none" stroke="#401410" stroke-width="0.5" />
<path d="M80.8 264.7 L84.3 261.5 Q86.6 260.7 88.9 261.5 L92.4 264.7 Q86.6 267.7 80.8 264.7Z" fill="#5f5c18" fill-opacity="0.25" stroke="#5f5c18" stroke-width="0.48" stroke-linejoin="round"/>
<path d="M85 261.7 Q84.6 263.6 82.5 265.2M85.7 261.7 Q85.5 263.6 84.2 265.6M86.3 261.7 Q86.2 263.6 85.8 265.9M86.9 261.7 Q87 263.6 87.4 265.9M87.5 261.7 Q87.7 263.6 89 265.6M88.2 261.7 Q88.6 263.6 90.7 265.2" fill="none" stroke="#5f5c18" stroke-width="0.4" stroke-opacity="0.95"/>
<path d="M103.2 264.9 L106.7 261.7 Q109 260.9 111.3 261.7 L114.8 264.9 Q109 267.9 103.2 264.9Z" fill="#5f5c18" fill-opacity="0.25" stroke="#5f5c18" stroke-width="0.48" stroke-linejoin="round"/>
<path d="M107.4 261.9 Q107 263.8 104.9 265.4M108.1 261.9 Q107.9 263.8 106.6 265.8M108.7 261.9 Q108.6 263.8 108.2 266.1M109.3 261.9 Q109.4 263.8 109.8 266.1M109.9 261.9 Q110.1 263.8 111.4 265.8M110.6 261.9 Q111 263.8 113.1 265.4" fill="none" stroke="#5f5c18" stroke-width="0.4" stroke-opacity="0.95"/>
<ellipse cx="80.7" cy="257" rx="1.5" ry="1.1" fill="none" stroke="#6f6b1c" stroke-width="0.5"/>
<ellipse cx="99.5" cy="258.8" rx="1.5" ry="1.1" fill="none" stroke="#6f6b1c" stroke-width="0.5"/>
<ellipse cx="119.7" cy="262" rx="1.5" ry="1.1" fill="none" stroke="#6f6b1c" stroke-width="0.5"/>
<ellipse cx="90" cy="257.6" rx="1.5" ry="1.1" fill="none" stroke="#6f6b1c" stroke-width="0.5"/>
<rect x="75" y="256" width="1" height="1" fill="#444"/>
<rect x="76" y="265" width="1" height="1" fill="#444"/>
<rect x="97" y="265.4" width="1" height="1" fill="#444"/>
<rect x="119" y="265.6" width="1" height="1" fill="#444"/>
<rect x="127" y="262" width="1" height="1" fill="#444"/>
<rect x="137" y="265" width="1" height="1" fill="#444"/>
<rect x="107" y="259.6" width="1" height="1" fill="#444"/>
<rect x="150" y="265.6" width="1" height="1" fill="#444"/>
<rect x="129" y="265.6" width="1" height="1" fill="#444"/>
<path d="M71 312.7 L72.5 312 L74 311.4 L75.5 310.9 L77 310.5 L78.5 310.4 L80 310.5 L81.5 310.9 L83 311.4 L84.5 312 L86 312.7 L87.5 313.4 L89 314 L90.5 314.4 L92 314.6 L93.5 314.5 L95 314.3 L96.5 313.8 L98 313.2 L99.5 312.5 L101 311.8 L102.5 311.2 L104 310.7 L105.5 310.5 L107 310.4 L108.5 310.6 L110 311 L111.5 311.6 L113 312.3 L114.5 313 L116 313.6 L117.5 314.1 L119 314.5 L120.5 314.6 L122 314.5 L123.5 314.1 L125 313.6 L126.5 313 L128 312.3 L129.5 311.6 L131 311 L132.5 310.6 L134 310.4 L135.5 310.5 L137 310.7 L138.5 311.2 L140 311.8 L141.5 312.5 L143 313.2 L144.5 313.8 L146 314.3 L147.5 314.5 L149 314.6 L150.5 314.4 L152 314 L153.5 313.4 L155 312.7 L156.5 312 L158 311.4 L159.5 310.9 L161 310.5 L162.5 310.4 L164 310.5 L165.5 310.9 L167 311.4 L168.5 312 L170 312.7 L171.5 313.4 L173 314 L174.5 314.4 L176 314.6 L177.5 314.5 L179 314.3 L180.5 313.8 L182 313.2 L183.5 312.5 L185 311.8 L185.5 311.6 L185.5 350.7 L71 350.7Z" fill="#e87cbd" stroke="#4a4a4a" stroke-width="0.5" />
<path d="M71 332 Q110 330.6 150 332.4 T185.5 333.4" fill="none" stroke="#7a2a5e" stroke-width="0.5" />
<path d="M71 341.4 Q100 343.2 130 342 T185.5 338.6" fill="none" stroke="#7a2a5e" stroke-width="0.45" />
<path d="M73 331.8 Q84 333.4 98 343M85 331.8 Q96 333.4 110 343M98 331.8 Q109 333.4 123 343M111 331.8 Q122 333.4 136 343M124 331.8 Q135 333.4 149 343M137 331.8 Q148 333.4 162 343M150 331.8 Q161 333.4 175 343M163 331.8 Q174 333.4 188 343M176 331.8 Q187 333.4 201 343" fill="none" stroke="#7a2a5e" stroke-width="0.45" clip-path="url(#cSA)"/>
<path d="M150 343.6 Q165 345 185 349 M140 344 Q160 348.6 180 350.6 M100 344 Q104 343 108 344" fill="none" stroke="#7a2a5e" stroke-width="0.45" />
<ellipse cx="116.1" cy="346.3" rx="0.6" ry="0.4" fill="#1a0a14" transform="rotate(-25 116.1 346.3)"/>
<ellipse cx="104.5" cy="346.8" rx="1.2" ry="0.6" fill="#1a0a14" transform="rotate(14 104.5 346.8)"/>
<ellipse cx="138.1" cy="344" rx="1.6" ry="1.1" fill="#1a0a14" transform="rotate(2 138.1 344)"/>
<ellipse cx="87.6" cy="345.6" rx="0.6" ry="0.3" fill="#1a0a14" transform="rotate(12 87.6 345.6)"/>
<ellipse cx="78.9" cy="348" rx="1.4" ry="1" fill="#1a0a14" transform="rotate(-7 78.9 348)"/>
<ellipse cx="92.1" cy="345.6" rx="1.4" ry="1" fill="#1a0a14" transform="rotate(-8 92.1 345.6)"/>
<ellipse cx="157.8" cy="345.1" rx="0.5" ry="0.3" fill="#1a0a14" transform="rotate(-25 157.8 345.1)"/>
<ellipse cx="154.8" cy="345.4" rx="1.1" ry="0.5" fill="#1a0a14" transform="rotate(2 154.8 345.4)"/>
<ellipse cx="141.5" cy="349.4" rx="0.5" ry="0.3" fill="#1a0a14" transform="rotate(-13 141.5 349.4)"/>
<ellipse cx="156.3" cy="342.9" rx="0.6" ry="0.3" fill="#1a0a14" transform="rotate(-24 156.3 342.9)"/>
<ellipse cx="119.6" cy="347.4" rx="1.1" ry="0.6" fill="#1a0a14" transform="rotate(-21 119.6 347.4)"/>
<ellipse cx="110" cy="347.7" rx="0.6" ry="0.3" fill="#1a0a14" transform="rotate(-14 110 347.7)"/>
<ellipse cx="160.4" cy="343.1" rx="0.8" ry="0.5" fill="#1a0a14" transform="rotate(-16 160.4 343.1)"/>
<ellipse cx="142.3" cy="346.7" rx="0.5" ry="0.3" fill="#1a0a14" transform="rotate(0 142.3 346.7)"/>
<ellipse cx="161.4" cy="347" rx="0.5" ry="0.3" fill="#1a0a14" transform="rotate(8 161.4 347)"/>
<ellipse cx="127.9" cy="343.4" rx="0.9" ry="0.6" fill="#1a0a14" transform="rotate(12 127.9 343.4)"/>
<ellipse cx="107" cy="345.5" rx="0.7" ry="0.5" fill="#1a0a14" transform="rotate(-24 107 345.5)"/>
<ellipse cx="108.2" cy="347.6" rx="0.5" ry="0.2" fill="#1a0a14" transform="rotate(-11 108.2 347.6)"/>
<ellipse cx="114.3" cy="346.1" rx="0.6" ry="0.3" fill="#1a0a14" transform="rotate(-19 114.3 346.1)"/>
<ellipse cx="121.1" cy="345.4" rx="1.2" ry="0.6" fill="#1a0a14" transform="rotate(-3 121.1 345.4)"/>
<ellipse cx="139" cy="347.8" rx="1" ry="0.5" fill="#1a0a14" transform="rotate(0 139 347.8)"/>
<ellipse cx="120.4" cy="346.6" rx="0.6" ry="0.3" fill="#1a0a14" transform="rotate(-9 120.4 346.6)"/>
<ellipse cx="75.7" cy="349.3" rx="1.5" ry="0.8" fill="#1a0a14" transform="rotate(-15 75.7 349.3)"/>
<ellipse cx="164.7" cy="342.9" rx="0.5" ry="0.3" fill="#1a0a14" transform="rotate(-1 164.7 342.9)"/>
<ellipse cx="100.4" cy="344.5" rx="1.4" ry="0.8" fill="#1a0a14" transform="rotate(5 100.4 344.5)"/>
<ellipse cx="125.3" cy="343.4" rx="1.1" ry="0.7" fill="#1a0a14" transform="rotate(-21 125.3 343.4)"/>
<ellipse cx="112.1" cy="345.1" rx="1.2" ry="0.7" fill="#1a0a14" transform="rotate(12 112.1 345.1)"/>
<ellipse cx="155.5" cy="347.7" rx="1.4" ry="0.9" fill="#1a0a14" transform="rotate(6 155.5 347.7)"/>
<ellipse cx="105.4" cy="349.2" rx="0.8" ry="0.4" fill="#1a0a14" transform="rotate(15 105.4 349.2)"/>
<ellipse cx="149.3" cy="348.2" rx="1.5" ry="0.8" fill="#1a0a14" transform="rotate(5 149.3 348.2)"/>
<ellipse cx="115.5" cy="347.3" rx="0.9" ry="0.5" fill="#1a0a14" transform="rotate(5 115.5 347.3)"/>
<ellipse cx="128.1" cy="343.3" rx="1.3" ry="0.8" fill="#1a0a14" transform="rotate(12 128.1 343.3)"/>
<ellipse cx="155.7" cy="346.4" rx="1.1" ry="0.8" fill="#1a0a14" transform="rotate(-21 155.7 346.4)"/>
<ellipse cx="154.6" cy="349.3" rx="0.5" ry="0.3" fill="#1a0a14" transform="rotate(-17 154.6 349.3)"/>
<ellipse cx="82.6" cy="348" rx="1" ry="0.6" fill="#1a0a14" transform="rotate(15 82.6 348)"/>
<ellipse cx="140.7" cy="343" rx="0.8" ry="0.4" fill="#1a0a14" transform="rotate(-2 140.7 343)"/>
<ellipse cx="149.6" cy="347" rx="1.5" ry="0.7" fill="#1a0a14" transform="rotate(13 149.6 347)"/>
<ellipse cx="80.9" cy="344.6" rx="1" ry="0.6" fill="#1a0a14" transform="rotate(-20 80.9 344.6)"/>
<ellipse cx="90.6" cy="347.6" rx="0.7" ry="0.3" fill="#1a0a14" transform="rotate(-3 90.6 347.6)"/>
<ellipse cx="131.1" cy="346" rx="1.3" ry="0.6" fill="#1a0a14" transform="rotate(-20 131.1 346)"/>
<ellipse cx="145.8" cy="349.3" rx="1.2" ry="0.8" fill="#1a0a14" transform="rotate(5 145.8 349.3)"/>
<ellipse cx="150.4" cy="345.2" rx="0.7" ry="0.5" fill="#1a0a14" transform="rotate(-13 150.4 345.2)"/>
<ellipse cx="163.1" cy="343.2" rx="0.5" ry="0.3" fill="#1a0a14" transform="rotate(-20 163.1 343.2)"/>
<ellipse cx="107.6" cy="348.3" rx="1" ry="0.6" fill="#1a0a14" transform="rotate(-2 107.6 348.3)"/>
<ellipse cx="154.3" cy="342.8" rx="1.4" ry="0.9" fill="#1a0a14" transform="rotate(-25 154.3 342.8)"/>
<ellipse cx="113.9" cy="349.3" rx="0.5" ry="0.2" fill="#1a0a14" transform="rotate(1 113.9 349.3)"/>
<ellipse cx="78.4" cy="345.7" rx="1.5" ry="0.9" fill="#1a0a14" transform="rotate(-11 78.4 345.7)"/>
<ellipse cx="132.4" cy="343.7" rx="0.5" ry="0.2" fill="#1a0a14" transform="rotate(-3 132.4 343.7)"/>
<ellipse cx="146.1" cy="349.1" rx="1.5" ry="1.1" fill="#1a0a14" transform="rotate(-19 146.1 349.1)"/>
<ellipse cx="75.7" cy="346.7" rx="1" ry="0.5" fill="#1a0a14" transform="rotate(11 75.7 346.7)"/>
<ellipse cx="95" cy="348" rx="2.8" ry="1.4" fill="#1a0a14"/>
<ellipse cx="151" cy="348.4" rx="2.8" ry="1.4" fill="#1a0a14"/>
<ellipse cx="137" cy="343.8" rx="2.8" ry="1.4" fill="#1a0a14"/>
<ellipse cx="80" cy="347.8" rx="2" ry="1" fill="#1a0a14"/>
<ellipse cx="118" cy="347.6" rx="2.2" ry="1.1" fill="#1a0a14"/>
<ellipse cx="108" cy="348.6" rx="1.8" ry="0.9" fill="#1a0a14"/>
<ellipse cx="161" cy="347" rx="2" ry="1" fill="#1a0a14"/>
<ellipse cx="128" cy="346.4" rx="2" ry="1" fill="#1a0a14"/>
<rect x="80.6" y="316.2" width="1" height="1" fill="#4a1a3a"/>
<rect x="92.4" y="326" width="1" height="1" fill="#4a1a3a"/>
<rect x="106.4" y="317" width="1" height="1" fill="#4a1a3a"/>
<rect x="110" y="329" width="1" height="1" fill="#4a1a3a"/>
<rect x="129" y="326.6" width="1" height="1" fill="#4a1a3a"/>
<rect x="146" y="317.4" width="1" height="1" fill="#4a1a3a"/>
<rect x="165" y="315.2" width="1" height="1" fill="#4a1a3a"/>
<rect x="79" y="330" width="1" height="1" fill="#4a1a3a"/>
<rect x="98" y="321" width="1" height="1" fill="#4a1a3a"/>
<rect x="178.6" y="316.6" width="1" height="1" fill="#4a1a3a"/>
<ellipse cx="88.8" cy="318.7" rx="1.7" ry="1.2" fill="none" stroke="#7a2a5e" stroke-width="0.45"/>
<ellipse cx="106.4" cy="324.3" rx="1.7" ry="1.2" fill="none" stroke="#7a2a5e" stroke-width="0.45"/>
<ellipse cx="124.1" cy="318.7" rx="1.7" ry="1.2" fill="none" stroke="#7a2a5e" stroke-width="0.45"/>
<ellipse cx="135.6" cy="325.3" rx="1.7" ry="1.2" fill="none" stroke="#7a2a5e" stroke-width="0.45"/>
<ellipse cx="162" cy="317.4" rx="1.7" ry="1.2" fill="none" stroke="#7a2a5e" stroke-width="0.45"/>
<path d="M112.8 323.2h13.8M112.8 325h13.8M112.8 326.8h13.8" fill="none" stroke="#7a2a5e" stroke-width="0.6" />
<path d="M144.8 327.4 L150.6 320.4 L154 322.4 L157.4 320.4 L163.2 327.4 Q154 329.4 144.8 327.4Z" fill="#b84e96" stroke="#7a2a5e" stroke-width="0.45" stroke-linejoin="round" fill-opacity="0.45"/>
<path d="M146.8 327.2 L151 321.8 L154 323.8 L157 321.8 L161.2 327.2 M148.8 327.4 L151.6 323.4 L154 325.2 L156.4 323.4 L159.2 327.4 M151 327.6 L154 326.4 L157 327.6" fill="none" stroke="#7a2a5e" stroke-width="0.4" />
<path d="M-5.1 -0.9 L5.1 -0.9 A1.7 1.7 0 1 1 7.7 0 A1.7 1.7 0 1 1 5.1 0.9 L-5.1 0.9 A1.7 1.7 0 1 1 -7.7 0 A1.7 1.7 0 1 1 -5.1 -0.9Z" fill="none" stroke="#7a2a5e" stroke-width="0.65" transform="translate(170.6 324.2) rotate(-53)"/>
<path d="M71 384 C72.1 383.7 74.3 381.9 77.4 382.1 C80.5 382.3 84.9 385 89.7 385 C94.5 385 100.7 382.2 106.4 382.1 C112.1 382.1 118.2 384 124 384.7 C129.8 385.4 135.6 386.5 141.4 386.1 C147.2 385.7 152.8 382.7 158.8 382.5 C164.8 382.3 173.2 384.9 177.6 385 C182 385.1 184.2 383.3 185.5 383 L185.5 408 L71 408Z" fill="#f2b9b0" stroke="#4a4a4a" stroke-width="0.5" />
<path d="M106.4 382.1 Q116 389 134 395 M100 383 Q110 390 124 393.6 M106.4 382.1 Q98 388 86 390.6 M71 386.4 Q82 386 92 384.6 M71 388 Q86 388.4 100 383.2 M116 383.4 Q130 386 146 397 M128 385 Q142 388 156 398.6 M158.8 382.5 Q150 388 138 391 M152 384 Q142 390 128 392.8 M158.8 382.5 Q168 390 185 397 M164 383.6 Q174 388 185 391.4 M146 385.8 Q160 392 172 402 M185 385.4 Q176 390 164 393 M185 400 Q178 401 172 400" fill="none" stroke="#8a5a55" stroke-width="0.45" clip-path="url(#cRR)"/>
<path d="M71 388.9 L92 390.4 L94 391.4 L111 392 L113 393 L129 394.4 L131 395.2 L145 396.8 L147 397.8 L156 398.8 L158 399.9 L163.2 400.2 L165 402 L168 402.2 L169.6 403.8 L172.6 404 L174.6 405.6 L185.5 406.4 L185.5 408 L71 408Z" fill="#f36750" stroke="#4a4a4a" stroke-width="0.5" />
<path d="M94 390.9 l3.4 0.9 M113 392.8 l3.4 0.9 M131 395 l3.4 0.9 M147 397.5 l3.4 0.9 M158 399.6 l3.4 0.9" fill="none" stroke="#222" stroke-width="0.8" />
<path d="M83.1 402.6 L88.8 398.4 L94.5 402.6 Q88.8 404.9 83.1 402.6Z M86.2 403 L88.8 400.4 L91.4 403" fill="none" stroke="#8a3226" stroke-width="0.8" stroke-linejoin="round"/>
<path d="M109.9 403.4 L115.6 399.2 L121.3 403.4 Q115.6 405.7 109.9 403.4Z M113 403.8 L115.6 401.2 L118.2 403.8" fill="none" stroke="#8a3226" stroke-width="0.8" stroke-linejoin="round"/>
<path d="M-2.5 -0.4 L2.5 -0.4 A0.6 0.6 0 1 1 3.5 0 A0.6 0.6 0 1 1 2.5 0.4 L-2.5 0.4 A0.6 0.6 0 1 1 -3.5 0 A0.6 0.6 0 1 1 -2.5 -0.4Z" fill="none" stroke="#7a2a20" stroke-width="0.5" transform="translate(75.9 398.8) rotate(-55)"/>
<line x1="119" y1="404.6" x2="131" y2="412.2" stroke="#666" stroke-width="0.45"/>
<text x="131.2" y="414.3" font-size="6.7" font-weight="normal" font-style="italic" text-anchor="start" fill="#555" >Pareiasaurus</text>
<path d="M71 420.8 L72.5 420.1 L74 419.3 L75.5 418.6 L77 418 L78.5 417.6 L80 417.5 L81.5 417.6 L83 418 L84.5 418.6 L86 419.3 L87.5 420.1 L89 420.8 L90.5 421.5 L92 421.9 L93.5 422.1 L95 422 L96.5 421.7 L98 421.2 L99.5 420.5 L101 419.7 L102.5 418.9 L104 418.3 L105.5 417.8 L107 417.5 L108.5 417.5 L110 417.8 L111.5 418.3 L113 419 L114.5 419.7 L116 420.5 L117.5 421.2 L119 421.7 L120.5 422 L122 422.1 L123.5 421.9 L125 421.4 L126.5 420.8 L128 420 L129.5 419.3 L131 418.6 L132.5 418 L134 417.6 L135.5 417.5 L137 417.6 L138.5 418 L140 418.6 L141.5 419.4 L143 420.2 L144.5 420.9 L146 421.5 L147.5 421.9 L149 422.1 L150.5 422 L152 421.7 L153.5 421.1 L155 420.4 L156.5 419.6 L158 418.9 L159.5 418.2 L161 417.8 L162.5 417.5 L164 417.5 L165.5 417.8 L167 418.3 L168.5 419 L170 419.8 L171.5 420.6 L173 421.2 L174.5 421.8 L176 422 L177.5 422.1 L179 421.9 L180.5 421.4 L182 420.7 L183.5 420 L185 419.2 L185.5 419 L185.5 449.4 L71 449.4Z" fill="#a4a25a" stroke="#4a4a4a" stroke-width="0.5" />
<path d="M71 440.2 H185.5 V449.4 H71Z" fill="#b0ae3a" stroke="#4a4a4a" stroke-width="0.5" />
<path d="M75 424h6M88 430h6M100 434.6h6M76 437.6h6M115 422.6h6M118 430h5M104 427h5M134 426.4h6M146 431h6M128 436.4h6M160 423h6M172 428h6M158 436h6M176 437h5M140 421.4h5" fill="none" stroke="#5a5828" stroke-width="0.5" />
<path d="M76 443.4h6M94 444.6h6M80 447.4h6M112 443h6M104 447.6h5M130 445h6M148 443.4h6M140 447.6h6M166 444.6h6M176 447.4h6M122 447.8h5" fill="none" stroke="#6a6820" stroke-width="0.5" />
<path d="M93 440.2h3M110 440.2h3M130 440.2h3M148 440.2h3M166 440.2h3" fill="none" stroke="#222" stroke-width="0.8" />
<path d="M-5.5 0 Q0 -2.4 5.5 0 Q0 2.4 -5.5 0Z" fill="#6e6d45" stroke="#3a3a22" stroke-width="0.35" transform="translate(94.7 425.8) rotate(37)"/>
<path d="M-5 0 Q0 -2.2 5 0 Q0 2.2 -5 0Z" fill="#6e6d45" stroke="#3a3a22" stroke-width="0.35" transform="translate(164.5 425.8) rotate(-35)"/>
<path d="M71 451.9 H185.5 V460.7 H71Z" fill="#3b391d" stroke="#4a4a4a" stroke-width="0.5" />
<path d="M76 455h6M90 458.6h6M116 455.4h6M122 458.8h5M140 455h6M164 455.6h5M174 458.4h6M82 453.6h5" fill="none" stroke="#8a8860" stroke-width="0.5" />
<path d="M-5 0 Q0 -2.2 5 0 Q0 2.2 -5 0Z" fill="#c2c1a8" stroke="#77764a" stroke-width="0.3" transform="translate(105.4 457.4) rotate(-25)"/>
<path d="M-5 0 Q0 -2.2 5 0 Q0 2.2 -5 0Z" fill="#c2c1a8" stroke="#77764a" stroke-width="0.3" transform="translate(157.2 457.5) rotate(-25)"/>
<path d="M71 463.2 H185.5 V476.5 H71Z" fill="url(#gPal)" stroke="#4a4a4a" stroke-width="0.5" />
<path d="M71 472.4 H185.5 V476.5 H71Z" fill="#a8a736" stroke="#4a4a4a" stroke-width="0.5" />
<path d="M76 466.4h6M94 467.2h6M84 470.2h6M112 466h6M104 470.4h6M130 468h6M148 466.4h6M140 470.6h6M166 467.6h6M174 470.4h6" fill="none" stroke="#4a4918" stroke-width="0.5" />
<path d="M71 479.3 Q100 480 130 479.4 T185.5 481 V507 H71Z" fill="#abaa3e" stroke="#4a4a4a" stroke-width="0.5" />
<path d="M71 497.4 L100 497.6 L130 496.6 L154 494.6 L170 490 L185.5 489 V507 H71Z" fill="#9c9b34" stroke="none" stroke-width="0.5" />
<path d="M71 486 L120 486.4 L150 487 L170 489.8 L158 491 L162 492 L150 493.6 L154 494.6 L130 496.6 L100 497.6 L71 497.4Z" fill="#37351b" stroke="#4a4a4a" stroke-width="0.5" />
<line x1="71" y1="507" x2="185.5" y2="507" stroke="#4a4a4a" stroke-width="0.5"/>
<line x1="185.5" y1="481" x2="185.5" y2="507" stroke="#4a4a4a" stroke-width="0.5"/>
<path d="M76 489.4h6M92 490h6M84 493.8h6M112 490.4h6M100 494.8h6M122 494.6h5M146 489.6h5" fill="none" stroke="#9a9870" stroke-width="0.5" />
<path d="M-5 0 Q0 -2.2 5 0 Q0 2.2 -5 0Z" fill="#c2c1a8" stroke="#77764a" stroke-width="0.3" transform="translate(103.8 491.9) rotate(-25)"/>
<path d="M-5 0 Q0 -2.2 5 0 Q0 2.2 -5 0Z" fill="#c2c1a8" stroke="#77764a" stroke-width="0.3" transform="translate(138.5 490.4) rotate(-25)"/>
<path d="M70 497.6 Q73 501 78 503 Q73 505 70 507M79 497.6 Q82 501 87 503 Q82 505 79 507M88 497.6 Q91 501 96 503 Q91 505 88 507M97 497.6 Q100 501 105 503 Q100 505 97 507M106 497.6 Q109 501 114 503 Q109 505 106 507M115 497.6 Q118 501 123 503 Q118 505 115 507M124 497.6 Q127 501 132 503 Q127 505 124 507M133 497.6 Q136 501 141 503 Q136 505 133 507M142 497.6 Q145 501 150 503 Q145 505 142 507M151 497.6 Q154 501 159 503 Q154 505 151 507M160 497.6 Q163 501 168 503 Q163 505 160 507M169 497.6 Q172 501 177 503 Q172 505 169 507M178 497.6 Q181 501 186 503 Q181 505 178 507M187 497.6 Q190 501 195 503 Q190 505 187 507" fill="none" stroke="#55541c" stroke-width="0.4" clip-path="url(#cRB)"/>
<path d="M71 502.8 H185.5 M120 499.6 H185.5" fill="none" stroke="#55541c" stroke-width="0.4" />
<path d="M120 483 H185.5 M140 485.6 H185.5 M160 487.6 H185.5" fill="none" stroke="#6a6924" stroke-width="0.4" />
<path d="M78 480.4h3M96 480.6h3M118 480.2h3M140 480.6h3M160 481.4h3" fill="none" stroke="#222" stroke-width="0.8" />
<path d="M71 510 Q100 510.8 130 510.2 T185.5 510 V542.2 H71Z" fill="#fbdfa8" stroke="#4a4a4a" stroke-width="0.5" />
<path d="M71 516.5 H185.5 V519.4 H71Z" fill="#dde27e" stroke="none" stroke-width="0.5" />
<path d="M71 524.6 H185.5 V527.5 H71Z" fill="#dde27e" stroke="none" stroke-width="0.5" />
<path d="M71 531.2 H185.5 V534.2 H71Z" fill="#dde27e" stroke="none" stroke-width="0.5" />
<path d="M71 513.6H185.5 M71 522H185.5 M71 529.4H185.5" fill="none" stroke="#c9b98a" stroke-width="0.4" />
<path d="M71 535.4 Q100 536 130 535.2 T185.5 535.4 V542.2 H71Z" fill="#bba435" stroke="#4a4a4a" stroke-width="0.5" />
<path d="M-2 1.7 L2 1.7 L0 -1.9Z" fill="#1a1a10" transform="translate(78.3 538.6) rotate(30)"/>
<path d="M-2 1.7 L2 1.7 L0 -1.9Z" fill="#1a1a10" transform="translate(89.9 539.1) rotate(90)"/>
<path d="M-2 1.7 L2 1.7 L0 -1.9Z" fill="#1a1a10" transform="translate(100.5 539.4) rotate(90)"/>
<path d="M-2 1.7 L2 1.7 L0 -1.9Z" fill="#1a1a10" transform="translate(114.2 538.7) rotate(180)"/>
<path d="M-2 1.7 L2 1.7 L0 -1.9Z" fill="#1a1a10" transform="translate(125.9 539.4) rotate(0)"/>
<path d="M-2 1.7 L2 1.7 L0 -1.9Z" fill="#1a1a10" transform="translate(137.7 539.4) rotate(200)"/>
<path d="M-2 1.7 L2 1.7 L0 -1.9Z" fill="#1a1a10" transform="translate(150.4 539.5) rotate(30)"/>
<path d="M-2 1.7 L2 1.7 L0 -1.9Z" fill="#1a1a10" transform="translate(161.7 538.5) rotate(90)"/>
<path d="M-2 1.7 L2 1.7 L0 -1.9Z" fill="#1a1a10" transform="translate(173 539.6) rotate(0)"/>
<path d="M100.7 512.8 h2.2 q0.2 2.2 1.3 2.6 q1.1 -0.4 1.3 -2.6 h2.2" fill="none" stroke="#8a7a50" stroke-width="0.45" />
<ellipse cx="104.2" cy="513" rx="1.2" ry="1.1" fill="#fff" stroke="#8a7a50" stroke-width="0.4"/>
<path d="M118.4 521.6 h2.2 q0.2 2.2 1.3 2.6 q1.1 -0.4 1.3 -2.6 h2.2" fill="none" stroke="#8a7a50" stroke-width="0.45" />
<ellipse cx="121.9" cy="521.8" rx="1.2" ry="1.1" fill="#fff" stroke="#8a7a50" stroke-width="0.4"/>
<path d="M86 529.2 h2.2 q0.2 2.2 1.3 2.6 q1.1 -0.4 1.3 -2.6 h2.2" fill="none" stroke="#8a7a50" stroke-width="0.45" />
<ellipse cx="89.5" cy="529.4" rx="1.2" ry="1.1" fill="#fff" stroke="#8a7a50" stroke-width="0.4"/>
<text x="190.3" y="21.8" font-size="7.6" font-weight="bold" font-style="normal" text-anchor="start" fill="#1f1f1f" >Serra Geral Group</text>
<text x="190.3" y="41.4" font-size="7.6" font-weight="bold" font-style="normal" text-anchor="start" fill="#1f1f1f" >Botucatu Fm.</text>
<text x="190.3" y="53.9" font-size="7.6" font-weight="bold" font-style="normal" text-anchor="start" fill="#1f1f1f" >Guará Fm./Pedreira</text>
<text x="226.2" y="62" font-size="7.6" font-weight="bold" font-style="normal" text-anchor="middle" fill="#1f1f1f" >Sandstone</text>
<text x="190.4" y="108.7" font-size="7.35" font-weight="bold" font-style="normal" text-anchor="start" fill="#1f1f1f" >Mata Sequence</text>
<text x="190.4" y="167.7" font-size="7.35" font-weight="bold" font-style="normal" text-anchor="start" fill="#1f1f1f" >Candelária Sequence</text>
<text x="190.4" y="219.5" font-size="7.35" font-weight="bold" font-style="normal" text-anchor="start" fill="#1f1f1f" >Santa Cruz Sequence</text>
<text x="192" y="253.8" font-size="7.35" font-weight="bold" font-style="normal" text-anchor="start" fill="#1f1f1f" >Pinheiros-Chiniquá</text>
<text x="225.5" y="262" font-size="7.35" font-weight="bold" font-style="normal" text-anchor="middle" fill="#1f1f1f" >Sequence</text>
<text x="193.6" y="331.5" font-size="7.35" font-weight="bold" font-style="normal" text-anchor="start" fill="#1f1f1f" >Sanga do Cabral</text>
<text x="195.2" y="339.5" font-size="7.35" font-weight="bold" font-style="normal" text-anchor="start" fill="#1f1f1f" >Supersequence</text>
<text x="213.4" y="389.8" font-size="7.35" font-weight="bold" font-style="normal" text-anchor="middle" fill="#1f1f1f" >Rio do Rasto</text>
<text x="213.4" y="398.2" font-size="7.35" font-weight="bold" font-style="normal" text-anchor="middle" fill="#1f1f1f" >/Pirambóia</text>
<text x="213.4" y="406.2" font-size="7.35" font-weight="bold" font-style="normal" text-anchor="middle" fill="#1f1f1f" >formations</text>
<text x="190.8" y="434.3" font-size="7.35" font-weight="bold" font-style="normal" text-anchor="start" fill="#1f1f1f" >Teresina Fm.</text>
<text x="190.8" y="449" font-size="7.35" font-weight="bold" font-style="normal" text-anchor="start" fill="#1f1f1f" >Serra Alta Fm.</text>
<text x="190.8" y="459.3" font-size="7.35" font-weight="bold" font-style="normal" text-anchor="start" fill="#1f1f1f" >Irati Fm.</text>
<text x="190.8" y="472.1" font-size="7.35" font-weight="bold" font-style="normal" text-anchor="start" fill="#1f1f1f" >Palermo Fm.</text>
<text x="190.8" y="491.1" font-size="7.35" font-weight="bold" font-style="normal" text-anchor="start" fill="#1f1f1f" >Rio Bonito Fm.</text>
<text x="190.8" y="526.9" font-size="7.35" font-weight="bold" font-style="normal" text-anchor="start" fill="#1f1f1f" >Taciba Fm.</text>
<line x1="185.8" y1="153.7" x2="203.5" y2="153.7" stroke="#7c7c7c" stroke-width="0.5"/>
<text x="207.2" y="155.3" font-size="7.3" fill="#4c4c4c"><tspan font-style="italic">Riograndia</tspan> AZ</text>
<line x1="185.8" y1="178.9" x2="203.5" y2="178.9" stroke="#7c7c7c" stroke-width="0.5"/>
<text x="207.2" y="180.5" font-size="7.3" fill="#4c4c4c"><tspan font-style="italic">Hyperodapedon</tspan> AZ</text>
<line x1="185.8" y1="209.7" x2="203.5" y2="209.7" stroke="#7c7c7c" stroke-width="0.5"/>
<text x="207.2" y="211.3" font-size="7.3" fill="#4c4c4c"><tspan font-style="italic">Santacruzodon</tspan> AZ</text>
<line x1="185.8" y1="240.6" x2="203.5" y2="240.6" stroke="#7c7c7c" stroke-width="0.5"/>
<text x="207.2" y="242.2" font-size="7.3" fill="#4c4c4c"><tspan font-style="italic">Dinodontosaurus</tspan> AZ</text>
<line x1="185.8" y1="319" x2="204" y2="319" stroke="#7c7c7c" stroke-width="0.5"/>
<text x="216.8" y="320.6" font-size="7.3" fill="#4c4c4c"><tspan font-style="italic">Procolophon</tspan> AZ</text>
<path d="M164.6 298.6 L165.2 300.3 L167.1 300.4 L165.6 301.5 L166.1 303.3 L164.6 302.3 L163.1 303.3 L163.6 301.5 L162.1 300.4 L164 300.3Z" fill="#111" stroke="#111" stroke-width="0.2" stroke-linejoin="miter"/>
<line x1="168" y1="301.6" x2="192" y2="303.6" stroke="#555" stroke-width="0.45"/>
<text x="195.2" y="306" font-size="8.2" font-weight="normal" font-style="normal" text-anchor="start" fill="#333" >Gondwanides II paroxysm</text>
<path d="M163.8 368.6 L164.4 370.3 L166.3 370.4 L164.8 371.5 L165.3 373.3 L163.8 372.3 L162.3 373.3 L162.8 371.5 L161.3 370.4 L163.2 370.3Z" fill="#111" stroke="#111" stroke-width="0.2" stroke-linejoin="miter"/>
<line x1="167.6" y1="371.3" x2="192" y2="371.3" stroke="#555" stroke-width="0.45"/>
<text x="195.2" y="373.3" font-size="8.2" font-weight="normal" font-style="normal" text-anchor="start" fill="#333" >Gondwanides I paroxysm</text>
<path d="M284.3 29.4 H287.6 V66 H284.3" fill="none" stroke="#828282" stroke-width="0.75" />
<path d="M275.3 89.2 H278.6 V272.6 H275.3" fill="none" stroke="#828282" stroke-width="0.75" />
<path d="M294.9 89.2 H298.2 V120 H294.9" fill="none" stroke="#828282" stroke-width="0.75" />
<path d="M294.9 131.8 H298.2 V272.6 H294.9" fill="none" stroke="#828282" stroke-width="0.75" />
<path d="M321.3 89.2 H324.6 V353.2 H321.3" fill="none" stroke="#828282" stroke-width="0.75" />
<path d="M294.3 309.2 H297.6 V350.8 H294.3" fill="none" stroke="#828282" stroke-width="0.75" />
<path d="M241.9 382.2 H245.2 V462.6 H241.9" fill="none" stroke="#828282" stroke-width="0.75" />
<path d="M241.9 465.4 H245.2 V507.4 H241.9" fill="none" stroke="#828282" stroke-width="0.75" />
<path d="M241.9 509.6 H245.2 V542.6 H241.9" fill="none" stroke="#828282" stroke-width="0.75" />
<text x="304" y="40.6" font-size="8.2" font-weight="bold" font-style="italic" text-anchor="middle" fill="#1f1f1f" >São</text>
<text x="304" y="49.5" font-size="8.2" font-weight="bold" font-style="italic" text-anchor="middle" fill="#1f1f1f" >Bento</text>
<text x="304" y="58.6" font-size="8.2" font-weight="bold" font-style="italic" text-anchor="middle" fill="#1f1f1f" >Group</text>
<text x="345" y="203.6" font-size="8.2" font-weight="bold" font-style="italic" text-anchor="middle" fill="#1f1f1f" >Rosário</text>
<text x="345" y="212.3" font-size="8.2" font-weight="bold" font-style="italic" text-anchor="middle" fill="#1f1f1f" >do Sul</text>
<text x="345" y="220.8" font-size="8.2" font-weight="bold" font-style="italic" text-anchor="middle" fill="#1f1f1f" >Group</text>
<text x="262" y="415.4" font-size="8.2" font-weight="bold" font-style="italic" text-anchor="middle" fill="#1f1f1f" >Passa</text>
<text x="262" y="423.6" font-size="8.2" font-weight="bold" font-style="italic" text-anchor="middle" fill="#1f1f1f" >Dois</text>
<text x="262" y="431.8" font-size="8.2" font-weight="bold" font-style="italic" text-anchor="middle" fill="#1f1f1f" >Group</text>
<text x="262" y="486.8" font-size="8.2" font-weight="bold" font-style="italic" text-anchor="middle" fill="#1f1f1f" >Guatá</text>
<text x="262" y="494.8" font-size="8.2" font-weight="bold" font-style="italic" text-anchor="middle" fill="#1f1f1f" >Group</text>
<text x="262" y="523.2" font-size="8.2" font-weight="bold" font-style="italic" text-anchor="middle" fill="#1f1f1f" >Itararé</text>
<text x="262" y="531.4" font-size="8.2" font-weight="bold" font-style="italic" text-anchor="middle" fill="#1f1f1f" >Group</text>
<text x="349.4" y="50.5" font-size="26" font-weight="bold" font-style="italic" text-anchor="start" fill="#111" >G III</text>
<text x="366.5" y="219.3" font-size="26" font-weight="bold" font-style="italic" text-anchor="start" fill="#111" >G II</text>
<text x="291.3" y="467.2" font-size="26" font-weight="bold" font-style="italic" text-anchor="start" fill="#111" >G I</text>
<text transform="translate(288.4 182.5) rotate(-90)" font-size="7.3" font-weight="bold" font-style="normal" text-anchor="middle" fill="#1f1f1f" >SANTA MARIA SUPERSEQUENCE</text>
<text transform="translate(310.6 197.2) rotate(-90)" font-size="7.3" font-weight="bold" font-style="normal" text-anchor="middle" fill="#1f1f1f" >Santa Maria Fm.</text>
<text transform="translate(307 105.8) rotate(-90)" font-size="7.0" font-weight="bold" font-style="normal" text-anchor="middle" fill="#1f1f1f" >Caturrita</text>
<text transform="translate(314.6 105.8) rotate(-90)" font-size="7.0" font-weight="bold" font-style="normal" text-anchor="middle" fill="#1f1f1f" >Fm.</text>
<text transform="translate(307 329.4) rotate(-90)" font-size="7.1" font-weight="bold" font-style="normal" text-anchor="middle" fill="#1f1f1f" >Sanga do</text>
<text transform="translate(314.2 330.8) rotate(-90)" font-size="7.1" font-weight="bold" font-style="normal" text-anchor="middle" fill="#1f1f1f" >Cabral Fm.</text>
<rect x="336.4" y="291.4" width="90.6" height="162.2" fill="#fff" stroke="#c4c4c4" stroke-width="0.8"/>
<rect x="333" y="460.6" width="98" height="78" fill="#fff" stroke="#c4c4c4" stroke-width="0.8"/>
<text x="357.2" y="300.7" font-size="5.55" font-weight="normal" font-style="normal" text-anchor="start" fill="#2a2a2a" >Tetrapod bones</text>
<text x="357.2" y="308.4" font-size="5.55" font-weight="normal" font-style="normal" text-anchor="start" fill="#2a2a2a" >Conchostraceans</text>
<text x="357.2" y="316.2" font-size="5.55" font-weight="normal" font-style="normal" text-anchor="start" fill="#2a2a2a" >Plant remains</text>
<text x="357.2" y="324.3" font-size="5.55" font-weight="normal" font-style="normal" text-anchor="start" fill="#2a2a2a" >Silicified logs</text>
<text x="357.2" y="332.4" font-size="5.55" font-weight="normal" font-style="normal" text-anchor="start" fill="#2a2a2a" >Palaeosols</text>
<text x="357.2" y="340.2" font-size="5.55" font-weight="normal" font-style="normal" text-anchor="start" fill="#2a2a2a" >Suspension lobes</text>
<text x="357.2" y="349.9" font-size="5.55" font-weight="normal" font-style="normal" text-anchor="start" fill="#2a2a2a" >Small/md size trough</text>
<text x="385" y="355.4" font-size="5.55" font-weight="normal" font-style="normal" text-anchor="middle" fill="#2a2a2a" >cross lamination</text>
<text x="357.2" y="362" font-size="5.55" font-weight="normal" font-style="normal" text-anchor="start" fill="#2a2a2a" >Horizontal lamination</text>
<text x="357.2" y="368.9" font-size="5.55" font-weight="normal" font-style="normal" text-anchor="start" fill="#2a2a2a" >Large-size trough</text>
<text x="381.5" y="374.8" font-size="5.55" font-weight="normal" font-style="normal" text-anchor="middle" fill="#2a2a2a" >cross lamination</text>
<text x="357.2" y="383.6" font-size="5.55" font-weight="normal" font-style="normal" text-anchor="start" fill="#2a2a2a" >Massive/laminated</text>
<text x="380.5" y="389.2" font-size="5.55" font-weight="normal" font-style="normal" text-anchor="middle" fill="#2a2a2a" >mudstone</text>
<text x="357.2" y="398" font-size="5.55" font-weight="normal" font-style="normal" text-anchor="start" fill="#2a2a2a" >Md./fine-grained sandstone</text>
<text x="357.2" y="408.2" font-size="5.55" font-weight="normal" font-style="normal" text-anchor="start" fill="#2a2a2a" >Coarse/md.-grained sand-</text>
<text x="389" y="413.8" font-size="5.55" font-weight="normal" font-style="normal" text-anchor="middle" fill="#2a2a2a" >stone, conglomerate</text>
<text x="357.2" y="423" font-size="5.55" font-weight="normal" font-style="normal" text-anchor="start" fill="#2a2a2a" >Mud matrix diamictite</text>
<text x="357.2" y="434.4" font-size="5.55" font-weight="normal" font-style="normal" text-anchor="start" fill="#2a2a2a" >Rhythmites with dropstones</text>
<text x="357.2" y="446.6" font-size="5.55" font-weight="normal" font-style="normal" text-anchor="start" fill="#2a2a2a" >Massive siltstones</text>
<path d="M-3.6 -0.7 L3.6 -0.7 A1.3 1.3 0 1 1 5.7 0 A1.3 1.3 0 1 1 3.6 0.7 L-3.6 0.7 A1.3 1.3 0 1 1 -5.7 0 A1.3 1.3 0 1 1 -3.6 -0.7Z" fill="#fff" stroke="#666" stroke-width="0.55" transform="translate(345.8 297.8) rotate(-31)"/>
<ellipse cx="346" cy="307.2" rx="3.8" ry="2.3" fill="none" stroke="#666" stroke-width="0.55"/>
<path d="M344.4 305.2 Q346.6 307.2 344.4 309.2" fill="none" stroke="#666" stroke-width="0.45" />
<path d="M-5.2 0 Q0 -2.3 5.2 0 Q0 2.3 -5.2 0Z" fill="#8c8c8c" stroke="#666" stroke-width="0.3" transform="translate(346 314.6) rotate(-20)"/>
<path d="M-2.4 -4.7 H2.4 V3.9 Q0 5.6 -2.4 3.9 Z M-2.4 3.9 Q0 2.5 2.4 3.9" fill="none" stroke="#555" stroke-width="0.55" stroke-linejoin="round" transform="translate(346 323) rotate(76)"/>
<path d="M342.5 328.4 h7.4 M346.2 328.4 v5.3 M346.2 330.3 L343.7 333.6 M346.2 330.3 L348.7 333.6" fill="none" stroke="#555" stroke-width="0.55" />
<path d="M341 336.2 L343.6 335.8 L352 341.4 L349.8 342 Q345 341.4 341 336.2Z" fill="none" stroke="#666" stroke-width="0.55" stroke-linejoin="round"/>
<path d="M339.8 351.6 L343.7 347.8 Q346.4 347.1 349.1 347.8 L353 351.6 Q346.4 355.2 339.8 351.6Z" fill="#8a8a8a" fill-opacity="0.45" stroke="#8a8a8a" stroke-width="0.48" stroke-linejoin="round"/>
<path d="M344.6 348.1 Q344.1 350.4 341.7 352.3M345.3 348.1 Q345.1 350.4 343.6 352.7M346 348.1 Q346 350.4 345.5 353.1M346.8 348.1 Q346.8 350.4 347.3 353.1M347.5 348.1 Q347.7 350.4 349.2 352.7M348.2 348.1 Q348.7 350.4 351.1 352.3" fill="none" stroke="#8a8a8a" stroke-width="0.4" stroke-opacity="0.95"/>
<path d="M342 359.8h9M342 361.2h9M342 362.6h9" fill="none" stroke="#8a8a8a" stroke-width="0.7" />
<path d="M341.8 370.2 Q346 374.4 351.3 366.8 L351.6 370 Q347 376 343.4 372.6Z" fill="#a0a0a0" stroke="#8a8a8a" stroke-width="0.4" stroke-linejoin="round"/>
<path d="M342.6 371.4 Q346.4 375 351.4 368.4 M346.6 368.6 Q348 370 351.3 366.8 M346.6 368.6 L345.6 372.2" fill="none" stroke="#8a8a8a" stroke-width="0.4" />
<rect x="340" y="380.3" width="13.4" height="9.4" rx="1.2" fill="#fff" stroke="#666" stroke-width="0.65"/>
<path d="M341.8 382.4h4.4M346 384.6h5.4M343 387.4h5.6" fill="none" stroke="#666" stroke-width="0.5" />
<rect x="340" y="392.3" width="13.4" height="9.4" rx="1.2" fill="#fff" stroke="#666" stroke-width="0.65"/>
<rect x="349.9" y="394.1" width="0.9" height="0.9" fill="#222"/>
<rect x="345.8" y="395.9" width="0.9" height="0.9" fill="#222"/>
<rect x="342.9" y="399.2" width="0.9" height="0.9" fill="#222"/>
<rect x="350.1" y="399.4" width="0.9" height="0.9" fill="#222"/>
<rect x="340" y="404.2" width="13.4" height="9.4" rx="1.2" fill="#fff" stroke="#666" stroke-width="0.65"/>
<ellipse cx="342.7" cy="409.8" rx="1.4" ry="1.1" fill="#111"/>
<ellipse cx="348.2" cy="409.1" rx="1.4" ry="1.1" fill="#111"/>
<ellipse cx="351" cy="411.2" rx="1.1" ry="0.9" fill="#111"/>
<ellipse cx="343.4" cy="406.4" rx="0.5" ry="0.4" fill="#111"/>
<ellipse cx="346" cy="407" rx="0.5" ry="0.4" fill="#111"/>
<ellipse cx="349.6" cy="406" rx="0.5" ry="0.4" fill="#111"/>
<ellipse cx="351.6" cy="407.6" rx="0.5" ry="0.4" fill="#111"/>
<ellipse cx="345.4" cy="411.6" rx="0.5" ry="0.4" fill="#111"/>
<ellipse cx="341.6" cy="407.6" rx="0.4" ry="0.3" fill="#111"/>
<rect x="340" y="416.3" width="13.4" height="9.4" rx="1.2" fill="#fff" stroke="#666" stroke-width="0.65"/>
<path d="M-1.1 0.9 L1.1 0.9 L0 -1.1Z" fill="#111" transform="translate(349.3 420.8) rotate(0) scale(1.3)"/>
<path d="M-1.1 0.9 L1.1 0.9 L0 -1.1Z" fill="#111" transform="translate(344.3 418.4) rotate(30) scale(0.8)"/>
<path d="M-1.1 0.9 L1.1 0.9 L0 -1.1Z" fill="#111" transform="translate(343 422.4) rotate(200) scale(0.8)"/>
<rect x="340" y="428.5" width="13.4" height="9.4" rx="1.2" fill="#fff" stroke="#666" stroke-width="0.65"/>
<path d="M340 433.4h3.6 q0.6 2.6 3 2.8 q2.4 -0.2 3 -2.8 h3.8" fill="none" stroke="#666" stroke-width="0.45" />
<ellipse cx="346.6" cy="433.3" rx="2" ry="1.7" fill="#fff" stroke="#666" stroke-width="0.45"/>
<rect x="340" y="440.5" width="13.4" height="9.4" rx="1.2" fill="#fff" stroke="#666" stroke-width="0.65"/>
<path d="M340 443.7h13.4M340 446.9h13.4" fill="none" stroke="#666" stroke-width="0.45" />
<path d="M341.4 468 L342.3 470.4 L344.8 470.5 L342.8 472.1 L343.5 474.5 L341.4 473.1 L339.3 474.5 L340 472.1 L338 470.5 L340.5 470.4Z" fill="#fff" stroke="#333" stroke-width="0.5" stroke-linejoin="miter"/>
<text x="348.2" y="470.7" font-size="5.65" font-weight="bold" font-style="normal" text-anchor="start" fill="#222" >Ash fall layers and volcanic</text>
<text x="348.2" y="477" font-size="5.65" font-weight="bold" font-style="normal" text-anchor="start" fill="#222" >U-Pb zircon dated samples</text>
<text x="337.6" y="486.4" font-size="5.6" font-weight="bold" font-style="italic" text-anchor="start" fill="#222" >Data source:</text>
<text x="338.9" y="493.4" font-size="5.65" font-weight="normal" font-style="normal" text-anchor="start" fill="#333" >1- Griffis et al. (2017)</text>
<text x="338.9" y="500.5" font-size="5.65" font-weight="normal" font-style="normal" text-anchor="start" fill="#333" >2- Philipp et al. (2018)</text>
<text x="338.9" y="507.7" font-size="5.65" font-weight="normal" font-style="normal" text-anchor="start" fill="#333" >3- Langer et al. (2018)</text>
<text x="338.9" y="514.9" font-size="5.65" font-weight="normal" font-style="normal" text-anchor="start" fill="#333" >4- Rocha-Campos et al. (2019)</text>
<text x="338.9" y="522" font-size="5.65" font-weight="normal" font-style="normal" text-anchor="start" fill="#333" >5- Candido et al. (2020)</text>
<text x="338.9" y="529.1" font-size="5.65" font-weight="normal" font-style="normal" text-anchor="start" fill="#333" >6- Philipp et al. (2023)</text>
<text x="338.9" y="536.3" font-size="5.65" font-weight="normal" font-style="normal" text-anchor="start" fill="#333" >7- Bruckmann et al. (2023)</text>
</svg></body></html>
